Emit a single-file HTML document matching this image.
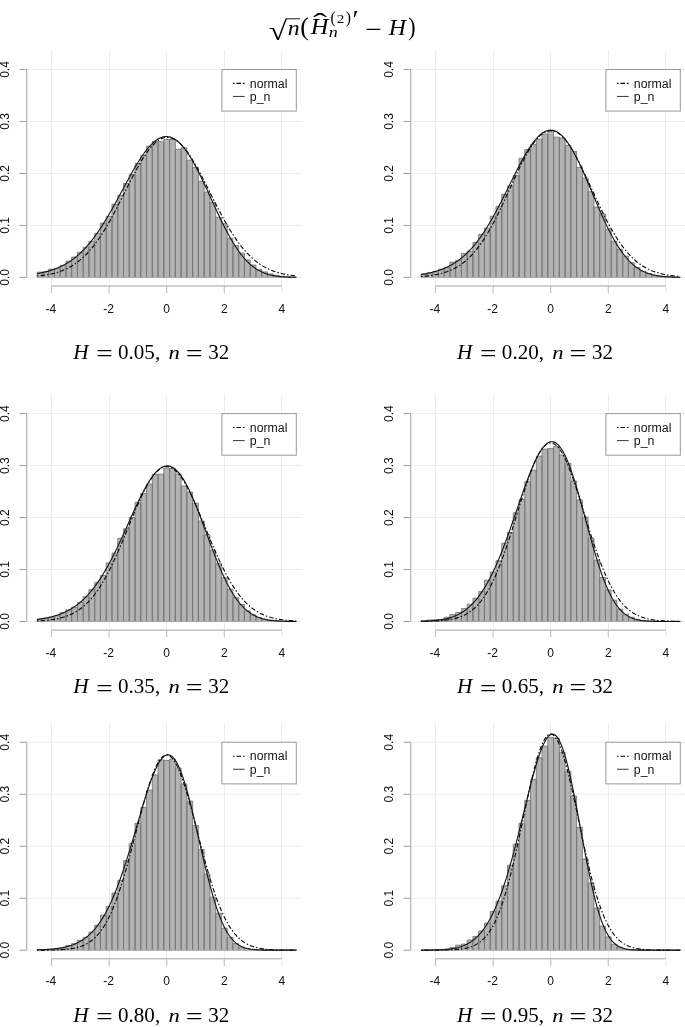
<!DOCTYPE html>
<html><head><meta charset="utf-8"><style>
html,body{margin:0;padding:0;background:#fff;width:685px;height:1027px;overflow:hidden}
svg{display:block}
.gr{stroke:#dadada;stroke-width:1;stroke-dasharray:1 1;fill:none}
.bar{fill:#b3b3b3;stroke:#747474;stroke-width:0.85}
.bb{stroke:#a6a6a6;stroke-width:1}
.nrm{fill:none;stroke:#000;stroke-width:1.1;stroke-dasharray:1.5 2 4.5 2}
.sol{fill:none;stroke:#111;stroke-width:1.1}
.ax{fill:none;stroke:#a0a0a0;stroke-width:1}
.axt{fill:none;stroke:#c2c2c2;stroke-width:1.2}
.lg{fill:#fff;stroke:#999;stroke-width:1}
.tl{font-family:"Liberation Sans",sans-serif;font-size:12px;fill:#111;text-anchor:middle}
.lt{font-family:"Liberation Sans",sans-serif;font-size:12.3px;fill:#111}
.sub{font-family:"Liberation Serif",serif;font-size:20.5px;fill:#000}
.it{font-style:italic}
.ttl{font-family:"Liberation Serif",serif;font-size:21px;fill:#000;font-style:italic}
</style></head><body>
<svg width="685" height="1027" viewBox="0 0 685 1027">
<text transform="translate(268.87 39.76) scale(1.230 1)" style="font-family:'Liberation Serif',serif;font-style:normal;font-size:27.04px" fill="#000">√</text>
<text transform="translate(287.72 34.50) scale(1.151 1)" style="font-family:'Liberation Serif',serif;font-style:italic;font-size:20.64px" fill="#000">n</text>
<text transform="translate(300.34 35.17) scale(1.007 1)" style="font-family:'Liberation Serif',serif;font-style:normal;font-size:25.71px" fill="#000">(</text>
<text transform="translate(310.75 34.30) scale(1.085 1)" style="font-family:'Liberation Serif',serif;font-style:italic;font-size:22.60px" fill="#000">H</text>
<text transform="translate(312.88 31.37) scale(1.612 1)" style="font-family:'Liberation Serif',serif;font-style:normal;font-size:26.00px" fill="#000">ˆ</text>
<text transform="translate(328.87 37.30) scale(1.199 1)" style="font-family:'Liberation Serif',serif;font-style:italic;font-size:15.11px" fill="#000">n</text>
<text transform="translate(330.61 23.19) scale(0.910 1)" style="font-family:'Liberation Serif',serif;font-style:normal;font-size:16.81px" fill="#000">(</text>
<text transform="translate(336.71 22.50) scale(1.198 1)" style="font-family:'Liberation Serif',serif;font-style:normal;font-size:12.73px" fill="#000">2</text>
<text transform="translate(345.73 23.23) scale(0.928 1)" style="font-family:'Liberation Serif',serif;font-style:normal;font-size:17.00px" fill="#000">)</text>
<text transform="translate(352.58 28.12) scale(1.110 1)" style="font-family:'Liberation Serif',serif;font-style:normal;font-size:25.53px" fill="#000">′</text>
<text transform="translate(365.32 38.03) scale(1.141 1)" style="font-family:'Liberation Serif',serif;font-style:normal;font-size:26.00px" fill="#000">−</text>
<text transform="translate(388.74 34.80) scale(1.029 1)" style="font-family:'Liberation Serif',serif;font-style:italic;font-size:23.21px" fill="#000">H</text>
<text transform="translate(408.34 35.40) scale(0.869 1)" style="font-family:'Liberation Serif',serif;font-style:normal;font-size:25.22px" fill="#000">)</text>
<line x1="286.2" y1="18.8" x2="300.2" y2="18.8" stroke="#000" stroke-width="0.9"/>
<line x1="51.5" y1="50.35" x2="51.5" y2="285.4" class="gr"/>
<line x1="109.5" y1="50.35" x2="109.5" y2="285.4" class="gr"/>
<line x1="166.5" y1="50.35" x2="166.5" y2="285.4" class="gr"/>
<line x1="224.5" y1="50.35" x2="224.5" y2="285.4" class="gr"/>
<line x1="281.5" y1="50.35" x2="281.5" y2="285.4" class="gr"/>
<line x1="27.73" y1="277.4" x2="302.06" y2="277.4" class="gr"/>
<line x1="27.73" y1="225.42" x2="302.06" y2="225.42" class="gr"/>
<line x1="27.73" y1="173.44" x2="302.06" y2="173.44" class="gr"/>
<line x1="27.73" y1="121.46" x2="302.06" y2="121.46" class="gr"/>
<line x1="27.73" y1="69.48" x2="302.06" y2="69.48" class="gr"/>
<path d="M37.1 277.4V272.2H42.86V277.4M42.86 277.4V271.68H48.62V277.4M48.62 277.4V269.19H54.38V277.4M54.38 277.4V268.41H60.14V277.4M60.14 277.4V265.44H65.9V277.4M65.9 277.4V261.29H71.66V277.4M71.66 277.4V257.13H77.42V277.4M77.42 277.4V252.29H83.18V277.4M83.18 277.4V247.25H88.94V277.4M88.94 277.4V241.33H94.7V277.4M94.7 277.4V233.37H100.46V277.4M100.46 277.4V223.08H106.22V277.4M106.22 277.4V216.38H111.98V277.4M111.98 277.4V204.32H117.74V277.4M117.74 277.4V195.38H123.5V277.4M123.5 277.4V183.47H129.26V277.4M129.26 277.4V174.48H135.02V277.4M135.02 277.4V163.51H140.78V277.4M140.78 277.4V155.61H146.54V277.4M146.54 277.4V146.2H152.3V277.4M152.3 277.4V141.32H158.06V277.4M158.06 277.4V141.68H163.82V277.4M163.82 277.4V139.5H169.58V277.4M169.58 277.4V139.5H175.34V277.4M175.34 277.4V149.22H181.1V277.4M181.1 277.4V147.81H186.86V277.4M186.86 277.4V160.19H192.62V277.4M192.62 277.4V167.31H198.38V277.4M198.38 277.4V181.29H204.14V277.4M204.14 277.4V192.1H209.9V277.4M209.9 277.4V202.39H215.66V277.4M215.66 277.4V217.31H221.42V277.4M221.42 277.4V223.86H227.18V277.4M227.18 277.4V238.31H232.94V277.4M232.94 277.4V245.69H238.7V277.4M238.7 277.4V253.13H244.46V277.4M244.46 277.4V259.99H250.22V277.4M250.22 277.4V265.08H255.98V277.4M255.98 277.4V269.4H261.74V277.4M261.74 277.4V271.89H267.5V277.4M267.5 277.4V274.02H273.26V277.4M273.26 277.4V275.37H279.02V277.4M279.02 277.4V276.31H284.78V277.4M284.78 277.4V276.72H290.54V277.4M290.54 277.4V277.09H296.3V277.4" class="bar"/>
<line x1="37.1" y1="277.4" x2="296.3" y2="277.4" class="bb"/>
<polyline points="37.1,276.07 37.96,275.99 38.83,275.9 39.69,275.8 40.56,275.7 41.42,275.6 42.28,275.49 43.15,275.37 44.01,275.25 44.88,275.12 45.74,274.98 46.6,274.84 47.47,274.69 48.33,274.53 49.2,274.37 50.06,274.19 50.92,274.01 51.79,273.82 52.65,273.62 53.52,273.41 54.38,273.18 55.24,272.95 56.11,272.71 56.97,272.46 57.84,272.19 58.7,271.92 59.56,271.63 60.43,271.33 61.29,271.01 62.16,270.68 63.02,270.34 63.88,269.98 64.75,269.61 65.61,269.22 66.48,268.82 67.34,268.4 68.2,267.97 69.07,267.51 69.93,267.04 70.8,266.56 71.66,266.05 72.52,265.53 73.39,264.98 74.25,264.42 75.12,263.84 75.98,263.23 76.84,262.61 77.71,261.96 78.57,261.29 79.44,260.6 80.3,259.89 81.16,259.16 82.03,258.4 82.89,257.62 83.76,256.81 84.62,255.98 85.48,255.13 86.35,254.25 87.21,253.35 88.08,252.43 88.94,251.47 89.8,250.5 90.67,249.49 91.53,248.47 92.4,247.41 93.26,246.33 94.12,245.23 94.99,244.1 95.85,242.94 96.72,241.76 97.58,240.55 98.44,239.32 99.31,238.06 100.17,236.78 101.04,235.48 101.9,234.14 102.76,232.79 103.63,231.41 104.49,230.01 105.36,228.58 106.22,227.14 107.08,225.67 107.95,224.18 108.81,222.67 109.68,221.14 110.54,219.59 111.4,218.03 112.27,216.44 113.13,214.84 114,213.23 114.86,211.6 115.72,209.95 116.59,208.29 117.45,206.62 118.32,204.94 119.18,203.25 120.04,201.56 120.91,199.85 121.77,198.14 122.64,196.43 123.5,194.71 124.36,192.99 125.23,191.27 126.09,189.55 126.96,187.83 127.82,186.12 128.68,184.41 129.55,182.71 130.41,181.02 131.28,179.34 132.14,177.67 133,176.01 133.87,174.37 134.73,172.74 135.6,171.13 136.46,169.54 137.32,167.98 138.19,166.43 139.05,164.91 139.92,163.42 140.78,161.95 141.64,160.51 142.51,159.1 143.37,157.73 144.24,156.39 145.1,155.08 145.96,153.81 146.83,152.58 147.69,151.39 148.56,150.24 149.42,149.13 150.28,148.06 151.15,147.04 152.01,146.06 152.88,145.14 153.74,144.26 154.6,143.42 155.47,142.64 156.33,141.91 157.2,141.24 158.06,140.61 158.92,140.04 159.79,139.52 160.65,139.06 161.52,138.65 162.38,138.3 163.24,138 164.11,137.77 164.97,137.58 165.84,137.46 166.7,137.39 167.56,137.38 168.43,137.43 169.29,137.54 170.16,137.7 171.02,137.92 171.88,138.19 172.75,138.53 173.61,138.92 174.48,139.36 175.34,139.86 176.2,140.41 177.07,141.02 177.93,141.68 178.8,142.39 179.66,143.16 180.52,143.97 181.39,144.84 182.25,145.75 183.12,146.71 183.98,147.72 184.84,148.77 185.71,149.86 186.57,151 187.44,152.18 188.3,153.4 189.16,154.65 190.03,155.95 190.89,157.28 191.76,158.64 192.62,160.04 193.48,161.47 194.35,162.92 195.21,164.41 196.08,165.92 196.94,167.46 197.8,169.02 198.67,170.6 199.53,172.2 200.4,173.82 201.26,175.46 202.12,177.11 202.99,178.78 203.85,180.46 204.72,182.15 205.58,183.85 206.44,185.55 207.31,187.26 208.17,188.98 209.04,190.7 209.9,192.42 210.76,194.14 211.63,195.85 212.49,197.57 213.36,199.28 214.22,200.99 215.08,202.69 215.95,204.38 216.81,206.06 217.68,207.74 218.54,209.4 219.4,211.05 220.27,212.68 221.13,214.31 222,215.91 222.86,217.5 223.72,219.07 224.59,220.63 225.45,222.16 226.32,223.68 227.18,225.18 228.04,226.65 228.91,228.11 229.77,229.54 230.64,230.95 231.5,232.33 232.36,233.7 233.23,235.03 234.09,236.35 234.96,237.64 235.82,238.91 236.68,240.15 237.55,241.36 238.41,242.55 239.28,243.72 240.14,244.85 241,245.97 241.87,247.06 242.73,248.12 243.6,249.15 244.46,250.17 245.32,251.15 246.19,252.11 247.05,253.05 247.92,253.96 248.78,254.84 249.64,255.7 250.51,256.54 251.37,257.35 252.24,258.14 253.1,258.91 253.96,259.65 254.83,260.37 255.69,261.07 256.56,261.74 257.42,262.39 258.28,263.03 259.15,263.64 260.01,264.23 260.88,264.8 261.74,265.35 262.6,265.88 263.47,266.39 264.33,266.88 265.2,267.36 266.06,267.82 266.92,268.26 267.79,268.68 268.65,269.09 269.52,269.48 270.38,269.86 271.24,270.22 272.11,270.57 272.97,270.9 273.84,271.22 274.7,271.53 275.56,271.82 276.43,272.1 277.29,272.37 278.16,272.63 279.02,272.87 279.88,273.11 280.75,273.33 281.61,273.55 282.48,273.75 283.34,273.95 284.2,274.13 285.07,274.31 285.93,274.48 286.8,274.64 287.66,274.79 288.52,274.94 289.39,275.08 290.25,275.21 291.12,275.33 291.98,275.45 292.84,275.56 293.71,275.67 294.57,275.77 295.44,275.87 296.3,275.96" class="nrm"/>
<polyline points="37.1,273.64 37.96,273.49 38.83,273.34 39.69,273.18 40.56,273.01 41.42,272.83 42.28,272.65 43.15,272.46 44.01,272.26 44.88,272.06 45.74,271.85 46.6,271.62 47.47,271.39 48.33,271.15 49.2,270.91 50.06,270.65 50.92,270.38 51.79,270.1 52.65,269.81 53.52,269.51 54.38,269.2 55.24,268.88 56.11,268.55 56.97,268.2 57.84,267.84 58.7,267.47 59.56,267.09 60.43,266.69 61.29,266.28 62.16,265.86 63.02,265.42 63.88,264.96 64.75,264.49 65.61,264.01 66.48,263.51 67.34,262.99 68.2,262.46 69.07,261.91 69.93,261.34 70.8,260.75 71.66,260.15 72.52,259.53 73.39,258.89 74.25,258.23 75.12,257.55 75.98,256.86 76.84,256.14 77.71,255.4 78.57,254.65 79.44,253.87 80.3,253.07 81.16,252.25 82.03,251.41 82.89,250.55 83.76,249.67 84.62,248.77 85.48,247.84 86.35,246.89 87.21,245.92 88.08,244.93 88.94,243.92 89.8,242.88 90.67,241.82 91.53,240.74 92.4,239.64 93.26,238.52 94.12,237.37 94.99,236.2 95.85,235.02 96.72,233.8 97.58,232.57 98.44,231.32 99.31,230.05 100.17,228.75 101.04,227.44 101.9,226.1 102.76,224.75 103.63,223.38 104.49,221.99 105.36,220.58 106.22,219.16 107.08,217.71 107.95,216.25 108.81,214.78 109.68,213.29 110.54,211.79 111.4,210.27 112.27,208.74 113.13,207.2 114,205.65 114.86,204.09 115.72,202.52 116.59,200.94 117.45,199.35 118.32,197.76 119.18,196.16 120.04,194.56 120.91,192.95 121.77,191.35 122.64,189.74 123.5,188.13 124.36,186.53 125.23,184.92 126.09,183.32 126.96,181.73 127.82,180.14 128.68,178.56 129.55,176.99 130.41,175.43 131.28,173.88 132.14,172.35 133,170.83 133.87,169.32 134.73,167.83 135.6,166.37 136.46,164.92 137.32,163.49 138.19,162.08 139.05,160.7 139.92,159.35 140.78,158.02 141.64,156.72 142.51,155.45 143.37,154.21 144.24,153 145.1,151.83 145.96,150.69 146.83,149.58 147.69,148.52 148.56,147.49 149.42,146.5 150.28,145.55 151.15,144.65 152.01,143.79 152.88,142.97 153.74,142.19 154.6,141.47 155.47,140.78 156.33,140.15 157.2,139.57 158.06,139.03 158.92,138.55 159.79,138.12 160.65,137.73 161.52,137.4 162.38,137.13 163.24,136.9 164.11,136.73 164.97,136.62 165.84,136.56 166.7,136.55 167.56,136.6 168.43,136.71 169.29,136.87 170.16,137.08 171.02,137.35 171.88,137.68 172.75,138.06 173.61,138.5 174.48,138.99 175.34,139.54 176.2,140.14 177.07,140.79 177.93,141.5 178.8,142.26 179.66,143.08 180.52,143.94 181.39,144.86 182.25,145.82 183.12,146.84 183.98,147.9 184.84,149.01 185.71,150.17 186.57,151.37 187.44,152.62 188.3,153.91 189.16,155.24 190.03,156.62 190.89,158.03 191.76,159.48 192.62,160.97 193.48,162.49 194.35,164.05 195.21,165.64 196.08,167.26 196.94,168.9 197.8,170.58 198.67,172.29 199.53,174.01 200.4,175.76 201.26,177.54 202.12,179.33 202.99,181.14 203.85,182.96 204.72,184.8 205.58,186.65 206.44,188.52 207.31,190.39 208.17,192.27 209.04,194.15 209.9,196.04 210.76,197.93 211.63,199.83 212.49,201.72 213.36,203.61 214.22,205.49 215.08,207.37 215.95,209.24 216.81,211.1 217.68,212.94 218.54,214.78 219.4,216.6 220.27,218.41 221.13,220.2 222,221.98 222.86,223.73 223.72,225.46 224.59,227.17 225.45,228.86 226.32,230.52 227.18,232.16 228.04,233.77 228.91,235.36 229.77,236.92 230.64,238.44 231.5,239.94 232.36,241.41 233.23,242.85 234.09,244.25 234.96,245.63 235.82,246.97 236.68,248.27 237.55,249.55 238.41,250.79 239.28,251.99 240.14,253.16 241,254.3 241.87,255.4 242.73,256.47 243.6,257.51 244.46,258.51 245.32,259.48 246.19,260.41 247.05,261.31 247.92,262.17 248.78,263.01 249.64,263.81 250.51,264.58 251.37,265.32 252.24,266.02 253.1,266.7 253.96,267.35 254.83,267.96 255.69,268.55 256.56,269.11 257.42,269.65 258.28,270.16 259.15,270.64 260.01,271.1 260.88,271.53 261.74,271.94 262.6,272.33 263.47,272.69 264.33,273.04 265.2,273.36 266.06,273.66 266.92,273.95 267.79,274.22 268.65,274.47 269.52,274.7 270.38,274.92 271.24,275.13 272.11,275.32 272.97,275.5 273.84,275.66 274.7,275.81 275.56,275.96 276.43,276.09 277.29,276.21 278.16,276.32 279.02,276.42 279.88,276.51 280.75,276.6 281.61,276.68 282.48,276.75 283.34,276.82 284.2,276.88 285.07,276.93 285.93,276.98 286.8,277.03 287.66,277.07 288.52,277.1 289.39,277.14 290.25,277.17 291.12,277.19 291.98,277.22 292.84,277.24 293.71,277.26 294.57,277.28 295.44,277.29 296.3,277.31" class="sol"/>
<path d="M51.5 286H281.9" class="ax"/>
<path d="M51.5 286V293.2M109.1 286V293.2M166.7 286V293.2M224.3 286V293.2" class="axt"/>
<path d="M281.9 286V293.2" class="axt" style="stroke:#ececec"/>
<path d="M26.73 277.4V69.48M26.73 277.4H19.33M26.73 225.42H19.33M26.73 173.44H19.33M26.73 121.46H19.33M26.73 69.48H19.33" class="ax"/>
<text x="50.9" y="312.6" class="tl">-4</text>
<text x="108.5" y="312.6" class="tl">-2</text>
<text x="166.7" y="312.6" class="tl">0</text>
<text x="224.3" y="312.6" class="tl">2</text>
<text x="281.9" y="312.6" class="tl">4</text>
<text x="9.33" y="277.4" class="tl" transform="rotate(-90 9.33 277.4)">0.0</text>
<text x="9.33" y="225.42" class="tl" transform="rotate(-90 9.33 225.42)">0.1</text>
<text x="9.33" y="173.44" class="tl" transform="rotate(-90 9.33 173.44)">0.2</text>
<text x="9.33" y="121.46" class="tl" transform="rotate(-90 9.33 121.46)">0.3</text>
<text x="9.33" y="69.48" class="tl" transform="rotate(-90 9.33 69.48)">0.4</text>
<rect x="221.9" y="69.48" width="74.4" height="41.6" class="lg"/>
<line x1="233" y1="83.38" x2="244.6" y2="83.38" class="nrm"/>
<line x1="233" y1="96.48" x2="244.6" y2="96.48" class="sol" style="stroke:#444"/>
<text x="249.8" y="87.68" class="lt">normal</text>
<text x="249.8" y="101.08" class="lt">p_n</text>
<line x1="435.5" y1="50.35" x2="435.5" y2="285.4" class="gr"/>
<line x1="493.5" y1="50.35" x2="493.5" y2="285.4" class="gr"/>
<line x1="550.5" y1="50.35" x2="550.5" y2="285.4" class="gr"/>
<line x1="608.5" y1="50.35" x2="608.5" y2="285.4" class="gr"/>
<line x1="665.5" y1="50.35" x2="665.5" y2="285.4" class="gr"/>
<line x1="411.73" y1="277.4" x2="686.06" y2="277.4" class="gr"/>
<line x1="411.73" y1="225.42" x2="686.06" y2="225.42" class="gr"/>
<line x1="411.73" y1="173.44" x2="686.06" y2="173.44" class="gr"/>
<line x1="411.73" y1="121.46" x2="686.06" y2="121.46" class="gr"/>
<line x1="411.73" y1="69.48" x2="686.06" y2="69.48" class="gr"/>
<path d="M421.1 277.4V273.92H426.86V277.4M426.86 277.4V272.83H432.62V277.4M432.62 277.4V271.68H438.38V277.4M438.38 277.4V269.19H444.14V277.4M444.14 277.4V267.32H449.9V277.4M449.9 277.4V262.12H455.66V277.4M455.66 277.4V260.25H461.42V277.4M461.42 277.4V253.39H467.18V277.4M467.18 277.4V251.2H472.94V277.4M472.94 277.4V242.42H478.7V277.4M478.7 277.4V234.2H484.46V277.4M484.46 277.4V228.17H490.22V277.4M490.22 277.4V216.17H495.98V277.4M495.98 277.4V206.4H501.74V277.4M501.74 277.4V194.28H507.5V277.4M507.5 277.4V185.92H513.26V277.4M513.26 277.4V175.62H519.02V277.4M519.02 277.4V158.31H524.78V277.4M524.78 277.4V149.43H530.54V277.4M530.54 277.4V144.59H536.3V277.4M536.3 277.4V139.19H542.06V277.4M542.06 277.4V134.14H547.82V277.4M547.82 277.4V130.82H553.58V277.4M553.58 277.4V137.11H559.34V277.4M559.34 277.4V138.09H565.1V277.4M565.1 277.4V145.37H570.86V277.4M570.86 277.4V151.3H576.62V277.4M576.62 277.4V167.31H582.38V277.4M582.38 277.4V178.12H588.14V277.4M588.14 277.4V191.79H593.9V277.4M593.9 277.4V207.02H599.66V277.4M599.66 277.4V213.98H605.42V277.4M605.42 277.4V229.21H611.18V277.4M611.18 277.4V241.22H616.94V277.4M616.94 277.4V249.23H622.7V277.4M622.7 277.4V256.19H628.46V277.4M628.46 277.4V262.79H634.22V277.4M634.22 277.4V267.58H639.98V277.4M639.98 277.4V271.42H645.74V277.4M645.74 277.4V273.61H651.5V277.4M651.5 277.4V275.37H657.26V277.4M657.26 277.4V276.31H663.02V277.4M663.02 277.4V276.72H668.78V277.4M668.78 277.4V277.09H674.54V277.4M674.54 277.4V277.19H680.3V277.4" class="bar"/>
<line x1="421.1" y1="277.4" x2="680.3" y2="277.4" class="bb"/>
<polyline points="421.1,276.47 421.96,276.41 422.83,276.34 423.69,276.27 424.56,276.19 425.42,276.11 426.28,276.02 427.15,275.93 428.01,275.83 428.88,275.73 429.74,275.62 430.6,275.51 431.47,275.39 432.33,275.26 433.2,275.12 434.06,274.98 434.92,274.83 435.79,274.67 436.65,274.5 437.52,274.32 438.38,274.14 439.24,273.94 440.11,273.73 440.97,273.52 441.84,273.29 442.7,273.05 443.56,272.8 444.43,272.54 445.29,272.26 446.16,271.97 447.02,271.67 447.88,271.35 448.75,271.02 449.61,270.67 450.48,270.31 451.34,269.93 452.2,269.54 453.07,269.13 453.93,268.7 454.8,268.25 455.66,267.78 456.52,267.29 457.39,266.79 458.25,266.26 459.12,265.71 459.98,265.15 460.84,264.56 461.71,263.94 462.57,263.31 463.44,262.65 464.3,261.96 465.16,261.26 466.03,260.53 466.89,259.77 467.76,258.98 468.62,258.18 469.48,257.34 470.35,256.48 471.21,255.59 472.08,254.67 472.94,253.72 473.8,252.75 474.67,251.75 475.53,250.72 476.4,249.66 477.26,248.57 478.12,247.45 478.99,246.3 479.85,245.12 480.72,243.92 481.58,242.68 482.44,241.42 483.31,240.12 484.17,238.8 485.04,237.45 485.9,236.06 486.76,234.65 487.63,233.21 488.49,231.75 489.36,230.25 490.22,228.73 491.08,227.19 491.95,225.61 492.81,224.01 493.68,222.39 494.54,220.75 495.4,219.08 496.27,217.38 497.13,215.67 498,213.94 498.86,212.18 499.72,210.41 500.59,208.62 501.45,206.82 502.32,205 503.18,203.17 504.04,201.33 504.91,199.47 505.77,197.61 506.64,195.73 507.5,193.85 508.36,191.97 509.23,190.09 510.09,188.2 510.96,186.31 511.82,184.42 512.68,182.54 513.55,180.67 514.41,178.8 515.28,176.94 516.14,175.09 517,173.25 517.87,171.43 518.73,169.62 519.6,167.84 520.46,166.07 521.32,164.33 522.19,162.61 523.05,160.92 523.92,159.25 524.78,157.62 525.64,156.02 526.51,154.45 527.37,152.92 528.24,151.42 529.1,149.97 529.96,148.56 530.83,147.19 531.69,145.86 532.56,144.58 533.42,143.35 534.28,142.17 535.15,141.03 536.01,139.96 536.88,138.93 537.74,137.96 538.6,137.05 539.47,136.19 540.33,135.39 541.2,134.66 542.06,133.98 542.92,133.36 543.79,132.81 544.65,132.32 545.52,131.9 546.38,131.54 547.24,131.24 548.11,131.01 548.97,130.85 549.84,130.75 550.7,130.71 551.56,130.75 552.43,130.85 553.29,131.01 554.16,131.24 555.02,131.54 555.88,131.9 556.75,132.32 557.61,132.81 558.48,133.36 559.34,133.98 560.2,134.66 561.07,135.39 561.93,136.19 562.8,137.05 563.66,137.96 564.52,138.93 565.39,139.96 566.25,141.03 567.12,142.17 567.98,143.35 568.84,144.58 569.71,145.86 570.57,147.19 571.44,148.56 572.3,149.97 573.16,151.42 574.03,152.92 574.89,154.45 575.76,156.02 576.62,157.62 577.48,159.25 578.35,160.92 579.21,162.61 580.08,164.33 580.94,166.07 581.8,167.84 582.67,169.62 583.53,171.43 584.4,173.25 585.26,175.09 586.12,176.94 586.99,178.8 587.85,180.67 588.72,182.54 589.58,184.42 590.44,186.31 591.31,188.2 592.17,190.09 593.04,191.97 593.9,193.85 594.76,195.73 595.63,197.61 596.49,199.47 597.36,201.33 598.22,203.17 599.08,205 599.95,206.82 600.81,208.62 601.68,210.41 602.54,212.18 603.4,213.94 604.27,215.67 605.13,217.38 606,219.08 606.86,220.75 607.72,222.39 608.59,224.01 609.45,225.61 610.32,227.19 611.18,228.73 612.04,230.25 612.91,231.75 613.77,233.21 614.64,234.65 615.5,236.06 616.36,237.45 617.23,238.8 618.09,240.12 618.96,241.42 619.82,242.68 620.68,243.92 621.55,245.12 622.41,246.3 623.28,247.45 624.14,248.57 625,249.66 625.87,250.72 626.73,251.75 627.6,252.75 628.46,253.72 629.32,254.67 630.19,255.59 631.05,256.48 631.92,257.34 632.78,258.18 633.64,258.98 634.51,259.77 635.37,260.53 636.24,261.26 637.1,261.96 637.96,262.65 638.83,263.31 639.69,263.94 640.56,264.56 641.42,265.15 642.28,265.71 643.15,266.26 644.01,266.79 644.88,267.29 645.74,267.78 646.6,268.25 647.47,268.7 648.33,269.13 649.2,269.54 650.06,269.93 650.92,270.31 651.79,270.67 652.65,271.02 653.52,271.35 654.38,271.67 655.24,271.97 656.11,272.26 656.97,272.54 657.84,272.8 658.7,273.05 659.56,273.29 660.43,273.52 661.29,273.73 662.16,273.94 663.02,274.14 663.88,274.32 664.75,274.5 665.61,274.67 666.48,274.83 667.34,274.98 668.2,275.12 669.07,275.26 669.93,275.39 670.8,275.51 671.66,275.62 672.52,275.73 673.39,275.83 674.25,275.93 675.12,276.02 675.98,276.11 676.84,276.19 677.71,276.27 678.57,276.34 679.44,276.41 680.3,276.47" class="nrm"/>
<polyline points="421.1,274.46 421.96,274.33 422.83,274.19 423.69,274.05 424.56,273.91 425.42,273.75 426.28,273.6 427.15,273.43 428.01,273.26 428.88,273.08 429.74,272.89 430.6,272.7 431.47,272.49 432.33,272.28 433.2,272.06 434.06,271.83 434.92,271.6 435.79,271.35 436.65,271.09 437.52,270.83 438.38,270.55 439.24,270.26 440.11,269.96 440.97,269.65 441.84,269.33 442.7,269 443.56,268.65 444.43,268.29 445.29,267.92 446.16,267.53 447.02,267.13 447.88,266.72 448.75,266.29 449.61,265.84 450.48,265.38 451.34,264.91 452.2,264.42 453.07,263.91 453.93,263.38 454.8,262.84 455.66,262.28 456.52,261.7 457.39,261.11 458.25,260.49 459.12,259.85 459.98,259.2 460.84,258.53 461.71,257.83 462.57,257.11 463.44,256.38 464.3,255.62 465.16,254.84 466.03,254.04 466.89,253.21 467.76,252.37 468.62,251.5 469.48,250.61 470.35,249.69 471.21,248.75 472.08,247.79 472.94,246.8 473.8,245.79 474.67,244.75 475.53,243.69 476.4,242.61 477.26,241.5 478.12,240.37 478.99,239.21 479.85,238.03 480.72,236.82 481.58,235.59 482.44,234.33 483.31,233.05 484.17,231.75 485.04,230.42 485.9,229.07 486.76,227.7 487.63,226.3 488.49,224.88 489.36,223.44 490.22,221.97 491.08,220.49 491.95,218.98 492.81,217.45 493.68,215.91 494.54,214.34 495.4,212.76 496.27,211.15 497.13,209.54 498,207.9 498.86,206.25 499.72,204.59 500.59,202.91 501.45,201.22 502.32,199.52 503.18,197.81 504.04,196.09 504.91,194.36 505.77,192.62 506.64,190.88 507.5,189.13 508.36,187.38 509.23,185.63 510.09,183.88 510.96,182.13 511.82,180.38 512.68,178.64 513.55,176.9 514.41,175.17 515.28,173.45 516.14,171.74 517,170.04 517.87,168.35 518.73,166.68 519.6,165.02 520.46,163.38 521.32,161.77 522.19,160.17 523.05,158.6 523.92,157.05 524.78,155.53 525.64,154.04 526.51,152.58 527.37,151.15 528.24,149.76 529.1,148.4 529.96,147.08 530.83,145.79 531.69,144.55 532.56,143.35 533.42,142.19 534.28,141.07 535.15,140.01 536.01,138.99 536.88,138.02 537.74,137.1 538.6,136.23 539.47,135.42 540.33,134.66 541.2,133.96 542.06,133.31 542.92,132.72 543.79,132.19 544.65,131.72 545.52,131.31 546.38,130.96 547.24,130.68 548.11,130.46 548.97,130.3 549.84,130.2 550.7,130.17 551.56,130.2 552.43,130.3 553.29,130.47 554.16,130.69 555.02,130.99 555.88,131.35 556.75,131.77 557.61,132.26 558.48,132.81 559.34,133.43 560.2,134.11 561.07,134.85 561.93,135.66 562.8,136.53 563.66,137.45 564.52,138.44 565.39,139.49 566.25,140.59 567.12,141.75 567.98,142.97 568.84,144.24 569.71,145.56 570.57,146.93 571.44,148.36 572.3,149.83 573.16,151.35 574.03,152.91 574.89,154.51 575.76,156.16 576.62,157.85 577.48,159.57 578.35,161.33 579.21,163.12 580.08,164.95 580.94,166.8 581.8,168.68 582.67,170.59 583.53,172.52 584.4,174.47 585.26,176.44 586.12,178.43 586.99,180.43 587.85,182.45 588.72,184.47 589.58,186.51 590.44,188.55 591.31,190.59 592.17,192.64 593.04,194.69 593.9,196.73 594.76,198.77 595.63,200.81 596.49,202.84 597.36,204.85 598.22,206.86 599.08,208.85 599.95,210.83 600.81,212.79 601.68,214.74 602.54,216.66 603.4,218.56 604.27,220.44 605.13,222.3 606,224.13 606.86,225.93 607.72,227.71 608.59,229.46 609.45,231.17 610.32,232.86 611.18,234.51 612.04,236.14 612.91,237.72 613.77,239.28 614.64,240.8 615.5,242.28 616.36,243.73 617.23,245.14 618.09,246.52 618.96,247.86 619.82,249.16 620.68,250.43 621.55,251.66 622.41,252.85 623.28,254 624.14,255.12 625,256.2 625.87,257.25 626.73,258.26 627.6,259.23 628.46,260.17 629.32,261.07 630.19,261.94 631.05,262.78 631.92,263.58 632.78,264.35 633.64,265.09 634.51,265.79 635.37,266.47 636.24,267.11 637.1,267.73 637.96,268.32 638.83,268.88 639.69,269.41 640.56,269.92 641.42,270.4 642.28,270.85 643.15,271.29 644.01,271.7 644.88,272.08 645.74,272.45 646.6,272.79 647.47,273.12 648.33,273.43 649.2,273.72 650.06,273.99 650.92,274.24 651.79,274.48 652.65,274.7 653.52,274.91 654.38,275.11 655.24,275.29 656.11,275.46 656.97,275.62 657.84,275.77 658.7,275.9 659.56,276.03 660.43,276.15 661.29,276.26 662.16,276.36 663.02,276.45 663.88,276.54 664.75,276.62 665.61,276.69 666.48,276.76 667.34,276.82 668.2,276.87 669.07,276.92 669.93,276.97 670.8,277.01 671.66,277.05 672.52,277.09 673.39,277.12 674.25,277.15 675.12,277.18 675.98,277.2 676.84,277.22 677.71,277.24 678.57,277.26 679.44,277.27 680.3,277.29" class="sol"/>
<path d="M435.5 286H665.9" class="ax"/>
<path d="M435.5 286V293.2M493.1 286V293.2M550.7 286V293.2M608.3 286V293.2" class="axt"/>
<path d="M665.9 286V293.2" class="axt" style="stroke:#ececec"/>
<path d="M410.73 277.4V69.48M410.73 277.4H403.33M410.73 225.42H403.33M410.73 173.44H403.33M410.73 121.46H403.33M410.73 69.48H403.33" class="ax"/>
<text x="434.9" y="312.6" class="tl">-4</text>
<text x="492.5" y="312.6" class="tl">-2</text>
<text x="550.7" y="312.6" class="tl">0</text>
<text x="608.3" y="312.6" class="tl">2</text>
<text x="665.9" y="312.6" class="tl">4</text>
<text x="393.33" y="277.4" class="tl" transform="rotate(-90 393.33 277.4)">0.0</text>
<text x="393.33" y="225.42" class="tl" transform="rotate(-90 393.33 225.42)">0.1</text>
<text x="393.33" y="173.44" class="tl" transform="rotate(-90 393.33 173.44)">0.2</text>
<text x="393.33" y="121.46" class="tl" transform="rotate(-90 393.33 121.46)">0.3</text>
<text x="393.33" y="69.48" class="tl" transform="rotate(-90 393.33 69.48)">0.4</text>
<rect x="605.9" y="69.48" width="74.4" height="41.6" class="lg"/>
<line x1="617" y1="83.38" x2="628.6" y2="83.38" class="nrm"/>
<line x1="617" y1="96.48" x2="628.6" y2="96.48" class="sol" style="stroke:#444"/>
<text x="633.8" y="87.68" class="lt">normal</text>
<text x="633.8" y="101.08" class="lt">p_n</text>
<line x1="51.5" y1="394.45" x2="51.5" y2="629.5" class="gr"/>
<line x1="109.5" y1="394.45" x2="109.5" y2="629.5" class="gr"/>
<line x1="166.5" y1="394.45" x2="166.5" y2="629.5" class="gr"/>
<line x1="224.5" y1="394.45" x2="224.5" y2="629.5" class="gr"/>
<line x1="281.5" y1="394.45" x2="281.5" y2="629.5" class="gr"/>
<line x1="27.73" y1="621.5" x2="302.06" y2="621.5" class="gr"/>
<line x1="27.73" y1="569.52" x2="302.06" y2="569.52" class="gr"/>
<line x1="27.73" y1="517.54" x2="302.06" y2="517.54" class="gr"/>
<line x1="27.73" y1="465.56" x2="302.06" y2="465.56" class="gr"/>
<line x1="27.73" y1="413.58" x2="302.06" y2="413.58" class="gr"/>
<path d="M37.1 621.5V619.32H42.86V621.5M42.86 621.5V618.23H48.62V621.5M48.62 621.5V617.29H54.38V621.5M54.38 621.5V615.68H60.14V621.5M60.14 621.5V612.4H65.9V621.5M65.9 621.5V609.91H71.66V621.5M71.66 621.5V607.1H77.42V621.5M77.42 621.5V602.48H83.18V621.5M83.18 621.5V596.71H88.94V621.5M88.94 621.5V589.69H94.7V621.5M94.7 621.5V582.31H100.46V621.5M100.46 621.5V575.5H106.22V621.5M106.22 621.5V562.97H111.98V621.5M111.98 621.5V553.09H117.74V621.5M117.74 621.5V538.28H123.5V621.5M123.5 621.5V528.82H129.26V621.5M129.26 621.5V517.49H135.02V621.5M135.02 621.5V502.31H140.78V621.5M140.78 621.5V493.42H146.54V621.5M146.54 621.5V484.01H152.3V621.5M152.3 621.5V474.29H158.06V621.5M158.06 621.5V474.14H163.82V621.5M163.82 621.5V468.21H169.58V621.5M169.58 621.5V468.42H175.34V621.5M175.34 621.5V473.98H181.1V621.5M181.1 621.5V485.88H186.86V621.5M186.86 621.5V492.17H192.62V621.5M192.62 621.5V503.19H198.38V621.5M198.38 621.5V520.97H204.14V621.5M204.14 621.5V534.8H209.9V621.5M209.9 621.5V550.18H215.66V621.5M215.66 621.5V563.7H221.42V621.5M221.42 621.5V577.78H227.18V621.5M227.18 621.5V589.22H232.94V621.5M232.94 621.5V597.69H238.7V621.5M238.7 621.5V604.5H244.46V621.5M244.46 621.5V610.79H250.22V621.5M250.22 621.5V614.79H255.98V621.5M255.98 621.5V617.6H261.74V621.5M261.74 621.5V619.42H267.5V621.5M267.5 621.5V620.3H273.26V621.5M273.26 621.5V620.72H279.02V621.5M279.02 621.5V621.08H284.78V621.5M284.78 621.5V621.29H290.54V621.5M290.54 621.5V621.29H296.3V621.5" class="bar"/>
<line x1="37.1" y1="621.5" x2="296.3" y2="621.5" class="bb"/>
<polyline points="37.1,620.95 37.96,620.91 38.83,620.86 39.69,620.82 40.56,620.76 41.42,620.71 42.28,620.65 43.15,620.58 44.01,620.52 44.88,620.44 45.74,620.37 46.6,620.29 47.47,620.2 48.33,620.1 49.2,620.01 50.06,619.9 50.92,619.79 51.79,619.67 52.65,619.54 53.52,619.41 54.38,619.27 55.24,619.12 56.11,618.96 56.97,618.79 57.84,618.62 58.7,618.43 59.56,618.23 60.43,618.02 61.29,617.8 62.16,617.57 63.02,617.32 63.88,617.07 64.75,616.79 65.61,616.51 66.48,616.21 67.34,615.89 68.2,615.56 69.07,615.21 69.93,614.85 70.8,614.46 71.66,614.06 72.52,613.64 73.39,613.2 74.25,612.74 75.12,612.26 75.98,611.76 76.84,611.24 77.71,610.69 78.57,610.12 79.44,609.52 80.3,608.9 81.16,608.26 82.03,607.59 82.89,606.89 83.76,606.17 84.62,605.41 85.48,604.63 86.35,603.82 87.21,602.98 88.08,602.11 88.94,601.21 89.8,600.28 90.67,599.32 91.53,598.32 92.4,597.29 93.26,596.23 94.12,595.14 94.99,594.01 95.85,592.85 96.72,591.65 97.58,590.42 98.44,589.15 99.31,587.85 100.17,586.52 101.04,585.15 101.9,583.75 102.76,582.31 103.63,580.84 104.49,579.33 105.36,577.79 106.22,576.22 107.08,574.61 107.95,572.97 108.81,571.3 109.68,569.59 110.54,567.86 111.4,566.09 112.27,564.3 113.13,562.48 114,560.63 114.86,558.75 115.72,556.85 116.59,554.92 117.45,552.97 118.32,551 119.18,549.01 120.04,547 120.91,544.97 121.77,542.93 122.64,540.87 123.5,538.81 124.36,536.73 125.23,534.64 126.09,532.54 126.96,530.44 127.82,528.34 128.68,526.23 129.55,524.13 130.41,522.03 131.28,519.94 132.14,517.85 133,515.78 133.87,513.72 134.73,511.67 135.6,509.64 136.46,507.63 137.32,505.64 138.19,503.68 139.05,501.74 139.92,499.83 140.78,497.95 141.64,496.11 142.51,494.31 143.37,492.54 144.24,490.81 145.1,489.13 145.96,487.49 146.83,485.9 147.69,484.36 148.56,482.87 149.42,481.44 150.28,480.06 151.15,478.74 152.01,477.48 152.88,476.29 153.74,475.15 154.6,474.08 155.47,473.08 156.33,472.15 157.2,471.28 158.06,470.49 158.92,469.77 159.79,469.12 160.65,468.55 161.52,468.05 162.38,467.62 163.24,467.27 164.11,467 164.97,466.81 165.84,466.69 166.7,466.65 167.56,466.69 168.43,466.81 169.29,467 170.16,467.27 171.02,467.62 171.88,468.05 172.75,468.55 173.61,469.12 174.48,469.77 175.34,470.49 176.2,471.28 177.07,472.15 177.93,473.08 178.8,474.08 179.66,475.15 180.52,476.29 181.39,477.48 182.25,478.74 183.12,480.06 183.98,481.44 184.84,482.87 185.71,484.36 186.57,485.9 187.44,487.49 188.3,489.13 189.16,490.81 190.03,492.54 190.89,494.31 191.76,496.11 192.62,497.95 193.48,499.83 194.35,501.74 195.21,503.68 196.08,505.64 196.94,507.63 197.8,509.64 198.67,511.67 199.53,513.72 200.4,515.78 201.26,517.85 202.12,519.94 202.99,522.03 203.85,524.13 204.72,526.23 205.58,528.34 206.44,530.44 207.31,532.54 208.17,534.64 209.04,536.73 209.9,538.81 210.76,540.87 211.63,542.93 212.49,544.97 213.36,547 214.22,549.01 215.08,551 215.95,552.97 216.81,554.92 217.68,556.85 218.54,558.75 219.4,560.63 220.27,562.48 221.13,564.3 222,566.09 222.86,567.86 223.72,569.59 224.59,571.3 225.45,572.97 226.32,574.61 227.18,576.22 228.04,577.79 228.91,579.33 229.77,580.84 230.64,582.31 231.5,583.75 232.36,585.15 233.23,586.52 234.09,587.85 234.96,589.15 235.82,590.42 236.68,591.65 237.55,592.85 238.41,594.01 239.28,595.14 240.14,596.23 241,597.29 241.87,598.32 242.73,599.32 243.6,600.28 244.46,601.21 245.32,602.11 246.19,602.98 247.05,603.82 247.92,604.63 248.78,605.41 249.64,606.17 250.51,606.89 251.37,607.59 252.24,608.26 253.1,608.9 253.96,609.52 254.83,610.12 255.69,610.69 256.56,611.24 257.42,611.76 258.28,612.26 259.15,612.74 260.01,613.2 260.88,613.64 261.74,614.06 262.6,614.46 263.47,614.85 264.33,615.21 265.2,615.56 266.06,615.89 266.92,616.21 267.79,616.51 268.65,616.79 269.52,617.07 270.38,617.32 271.24,617.57 272.11,617.8 272.97,618.02 273.84,618.23 274.7,618.43 275.56,618.62 276.43,618.79 277.29,618.96 278.16,619.12 279.02,619.27 279.88,619.41 280.75,619.54 281.61,619.67 282.48,619.79 283.34,619.9 284.2,620.01 285.07,620.1 285.93,620.2 286.8,620.29 287.66,620.37 288.52,620.44 289.39,620.52 290.25,620.58 291.12,620.65 291.98,620.71 292.84,620.76 293.71,620.82 294.57,620.86 295.44,620.91 296.3,620.95" class="nrm"/>
<polyline points="37.1,619.36 37.96,619.25 38.83,619.14 39.69,619.02 40.56,618.9 41.42,618.77 42.28,618.63 43.15,618.49 44.01,618.35 44.88,618.19 45.74,618.03 46.6,617.87 47.47,617.69 48.33,617.51 49.2,617.32 50.06,617.12 50.92,616.92 51.79,616.7 52.65,616.47 53.52,616.24 54.38,616 55.24,615.74 56.11,615.48 56.97,615.2 57.84,614.92 58.7,614.62 59.56,614.31 60.43,613.99 61.29,613.65 62.16,613.3 63.02,612.94 63.88,612.57 64.75,612.18 65.61,611.77 66.48,611.35 67.34,610.92 68.2,610.47 69.07,610 69.93,609.52 70.8,609.01 71.66,608.5 72.52,607.96 73.39,607.4 74.25,606.83 75.12,606.23 75.98,605.62 76.84,604.98 77.71,604.33 78.57,603.65 79.44,602.96 80.3,602.24 81.16,601.49 82.03,600.73 82.89,599.94 83.76,599.13 84.62,598.29 85.48,597.43 86.35,596.55 87.21,595.64 88.08,594.7 88.94,593.74 89.8,592.75 90.67,591.74 91.53,590.7 92.4,589.63 93.26,588.54 94.12,587.42 94.99,586.27 95.85,585.09 96.72,583.89 97.58,582.66 98.44,581.4 99.31,580.12 100.17,578.8 101.04,577.46 101.9,576.09 102.76,574.7 103.63,573.28 104.49,571.83 105.36,570.35 106.22,568.85 107.08,567.32 107.95,565.76 108.81,564.18 109.68,562.58 110.54,560.95 111.4,559.29 112.27,557.62 113.13,555.92 114,554.2 114.86,552.46 115.72,550.7 116.59,548.92 117.45,547.12 118.32,545.3 119.18,543.47 120.04,541.62 120.91,539.76 121.77,537.89 122.64,536 123.5,534.11 124.36,532.2 125.23,530.29 126.09,528.37 126.96,526.45 127.82,524.53 128.68,522.6 129.55,520.68 130.41,518.75 131.28,516.83 132.14,514.92 133,513.01 133.87,511.12 134.73,509.23 135.6,507.36 136.46,505.5 137.32,503.66 138.19,501.84 139.05,500.04 139.92,498.27 140.78,496.52 141.64,494.8 142.51,493.11 143.37,491.45 144.24,489.82 145.1,488.23 145.96,486.68 146.83,485.17 147.69,483.7 148.56,482.28 149.42,480.9 150.28,479.57 151.15,478.29 152.01,477.07 152.88,475.89 153.74,474.78 154.6,473.72 155.47,472.73 156.33,471.79 157.2,470.92 158.06,470.12 158.92,469.38 159.79,468.7 160.65,468.1 161.52,467.57 162.38,467.11 163.24,466.72 164.11,466.41 164.97,466.17 165.84,466.01 166.7,465.92 167.56,465.91 168.43,465.98 169.29,466.12 170.16,466.35 171.02,466.65 171.88,467.03 172.75,467.49 173.61,468.02 174.48,468.64 175.34,469.33 176.2,470.1 177.07,470.94 177.93,471.86 178.8,472.86 179.66,473.93 180.52,475.07 181.39,476.28 182.25,477.56 183.12,478.91 183.98,480.32 184.84,481.8 185.71,483.35 186.57,484.95 187.44,486.61 188.3,488.34 189.16,490.11 190.03,491.94 190.89,493.82 191.76,495.75 192.62,497.72 193.48,499.73 194.35,501.79 195.21,503.88 196.08,506.01 196.94,508.17 197.8,510.36 198.67,512.58 199.53,514.82 200.4,517.08 201.26,519.36 202.12,521.65 202.99,523.96 203.85,526.28 204.72,528.6 205.58,530.93 206.44,533.26 207.31,535.59 208.17,537.91 209.04,540.23 209.9,542.54 210.76,544.84 211.63,547.12 212.49,549.39 213.36,551.63 214.22,553.86 215.08,556.06 215.95,558.24 216.81,560.4 217.68,562.52 218.54,564.61 219.4,566.67 220.27,568.7 221.13,570.69 222,572.64 222.86,574.55 223.72,576.43 224.59,578.26 225.45,580.06 226.32,581.81 227.18,583.52 228.04,585.18 228.91,586.8 229.77,588.38 230.64,589.91 231.5,591.4 232.36,592.84 233.23,594.23 234.09,595.58 234.96,596.89 235.82,598.15 236.68,599.37 237.55,600.54 238.41,601.66 239.28,602.75 240.14,603.79 241,604.79 241.87,605.74 242.73,606.66 243.6,607.54 244.46,608.38 245.32,609.17 246.19,609.94 247.05,610.66 247.92,611.35 248.78,612.01 249.64,612.63 250.51,613.22 251.37,613.78 252.24,614.31 253.1,614.81 253.96,615.28 254.83,615.72 255.69,616.14 256.56,616.53 257.42,616.9 258.28,617.25 259.15,617.58 260.01,617.88 260.88,618.16 261.74,618.43 262.6,618.68 263.47,618.91 264.33,619.12 265.2,619.32 266.06,619.51 266.92,619.68 267.79,619.84 268.65,619.98 269.52,620.12 270.38,620.24 271.24,620.36 272.11,620.47 272.97,620.56 273.84,620.65 274.7,620.73 275.56,620.81 276.43,620.88 277.29,620.94 278.16,621 279.02,621.05 279.88,621.09 280.75,621.14 281.61,621.18 282.48,621.21 283.34,621.24 284.2,621.27 285.07,621.3 285.93,621.32 286.8,621.34 287.66,621.36 288.52,621.37 289.39,621.39 290.25,621.4 291.12,621.41 291.98,621.42 292.84,621.43 293.71,621.44 294.57,621.45 295.44,621.46 296.3,621.46" class="sol"/>
<path d="M51.5 630.1H281.9" class="ax"/>
<path d="M51.5 630.1V637.3M109.1 630.1V637.3M166.7 630.1V637.3M224.3 630.1V637.3" class="axt"/>
<path d="M281.9 630.1V637.3" class="axt" style="stroke:#ececec"/>
<path d="M26.73 621.5V413.58M26.73 621.5H19.33M26.73 569.52H19.33M26.73 517.54H19.33M26.73 465.56H19.33M26.73 413.58H19.33" class="ax"/>
<text x="50.9" y="656.7" class="tl">-4</text>
<text x="108.5" y="656.7" class="tl">-2</text>
<text x="166.7" y="656.7" class="tl">0</text>
<text x="224.3" y="656.7" class="tl">2</text>
<text x="281.9" y="656.7" class="tl">4</text>
<text x="9.33" y="621.5" class="tl" transform="rotate(-90 9.33 621.5)">0.0</text>
<text x="9.33" y="569.52" class="tl" transform="rotate(-90 9.33 569.52)">0.1</text>
<text x="9.33" y="517.54" class="tl" transform="rotate(-90 9.33 517.54)">0.2</text>
<text x="9.33" y="465.56" class="tl" transform="rotate(-90 9.33 465.56)">0.3</text>
<text x="9.33" y="413.58" class="tl" transform="rotate(-90 9.33 413.58)">0.4</text>
<rect x="221.9" y="413.58" width="74.4" height="41.6" class="lg"/>
<line x1="233" y1="427.48" x2="244.6" y2="427.48" class="nrm"/>
<line x1="233" y1="440.58" x2="244.6" y2="440.58" class="sol" style="stroke:#444"/>
<text x="249.8" y="431.78" class="lt">normal</text>
<text x="249.8" y="445.18" class="lt">p_n</text>
<line x1="435.5" y1="394.45" x2="435.5" y2="629.5" class="gr"/>
<line x1="493.5" y1="394.45" x2="493.5" y2="629.5" class="gr"/>
<line x1="550.5" y1="394.45" x2="550.5" y2="629.5" class="gr"/>
<line x1="608.5" y1="394.45" x2="608.5" y2="629.5" class="gr"/>
<line x1="665.5" y1="394.45" x2="665.5" y2="629.5" class="gr"/>
<line x1="411.73" y1="621.5" x2="686.06" y2="621.5" class="gr"/>
<line x1="411.73" y1="569.52" x2="686.06" y2="569.52" class="gr"/>
<line x1="411.73" y1="517.54" x2="686.06" y2="517.54" class="gr"/>
<line x1="411.73" y1="465.56" x2="686.06" y2="465.56" class="gr"/>
<line x1="411.73" y1="413.58" x2="686.06" y2="413.58" class="gr"/>
<path d="M421.1 621.5V620.62H426.86V621.5M426.86 621.5V619.99H432.62V621.5M432.62 621.5V619.68H438.38V621.5M438.38 621.5V619.32H444.14V621.5M444.14 621.5V617.29H449.9V621.5M449.9 621.5V614.59H455.66V621.5M455.66 621.5V612.4H461.42V621.5M461.42 621.5V608.61H467.18V621.5M467.18 621.5V604.19H472.94V621.5M472.94 621.5V598.21H478.7V621.5M478.7 621.5V591.61H484.46V621.5M484.46 621.5V580.18H490.22V621.5M490.22 621.5V572.07H495.98V621.5M495.98 621.5V560.68H501.74V621.5M501.74 621.5V543.22H507.5V621.5M507.5 621.5V532.51H513.26V621.5M513.26 621.5V512.71H519.02V621.5M519.02 621.5V499.3H524.78V621.5M524.78 621.5V481.67H530.54V621.5M530.54 621.5V470.19H536.3V621.5M536.3 621.5V456.2H542.06V621.5M542.06 621.5V449.13H547.82V621.5M547.82 621.5V448.41H553.58V621.5M553.58 621.5V446.33H559.34V621.5M559.34 621.5V454.9H565.1V621.5M565.1 621.5V463.38H570.86V621.5M570.86 621.5V481H576.62V621.5M576.62 621.5V499.92H582.38V621.5M582.38 621.5V517.12H588.14V621.5M588.14 621.5V538.18H593.9V621.5M593.9 621.5V560.16H599.66V621.5M599.66 621.5V577.52H605.42V621.5M605.42 621.5V589.95H611.18V621.5M611.18 621.5V600.19H616.94V621.5M616.94 621.5V609.13H622.7V621.5M622.7 621.5V614.22H628.46V621.5M628.46 621.5V617.29H634.22V621.5M634.22 621.5V619.37H639.98V621.5M639.98 621.5V620.51H645.74V621.5M645.74 621.5V620.93H651.5V621.5M651.5 621.5V621.29H657.26V621.5M657.26 621.5V621.29H663.02V621.5M663.02 621.5V621.29H668.78V621.5M668.78 621.5V621.29H674.54V621.5M674.54 621.5V621.29H680.3V621.5" class="bar"/>
<line x1="421.1" y1="621.5" x2="680.3" y2="621.5" class="bb"/>
<polyline points="421.1,621.4 421.96,621.39 422.83,621.38 423.69,621.37 424.56,621.35 425.42,621.34 426.28,621.32 427.15,621.31 428.01,621.29 428.88,621.26 429.74,621.24 430.6,621.22 431.47,621.19 432.33,621.16 433.2,621.13 434.06,621.09 434.92,621.05 435.79,621.01 436.65,620.97 437.52,620.92 438.38,620.86 439.24,620.81 440.11,620.75 440.97,620.68 441.84,620.61 442.7,620.53 443.56,620.44 444.43,620.35 445.29,620.25 446.16,620.15 447.02,620.04 447.88,619.92 448.75,619.78 449.61,619.64 450.48,619.49 451.34,619.33 452.2,619.16 453.07,618.98 453.93,618.78 454.8,618.57 455.66,618.35 456.52,618.11 457.39,617.85 458.25,617.58 459.12,617.29 459.98,616.99 460.84,616.66 461.71,616.32 462.57,615.95 463.44,615.56 464.3,615.15 465.16,614.71 466.03,614.25 466.89,613.76 467.76,613.25 468.62,612.71 469.48,612.13 470.35,611.53 471.21,610.9 472.08,610.23 472.94,609.53 473.8,608.79 474.67,608.02 475.53,607.21 476.4,606.36 477.26,605.47 478.12,604.54 478.99,603.57 479.85,602.55 480.72,601.49 481.58,600.39 482.44,599.24 483.31,598.04 484.17,596.8 485.04,595.5 485.9,594.16 486.76,592.77 487.63,591.32 488.49,589.83 489.36,588.28 490.22,586.68 491.08,585.03 491.95,583.32 492.81,581.56 493.68,579.75 494.54,577.89 495.4,575.97 496.27,574 497.13,571.98 498,569.9 498.86,567.78 499.72,565.6 500.59,563.38 501.45,561.1 502.32,558.78 503.18,556.42 504.04,554.01 504.91,551.55 505.77,549.06 506.64,546.53 507.5,543.96 508.36,541.35 509.23,538.72 510.09,536.05 510.96,533.36 511.82,530.64 512.68,527.9 513.55,525.15 514.41,522.38 515.28,519.59 516.14,516.8 517,514 517.87,511.21 518.73,508.41 519.6,505.63 520.46,502.85 521.32,500.08 522.19,497.34 523.05,494.62 523.92,491.92 524.78,489.26 525.64,486.63 526.51,484.04 527.37,481.5 528.24,479 529.1,476.55 529.96,474.16 530.83,471.84 531.69,469.57 532.56,467.38 533.42,465.25 534.28,463.21 535.15,461.24 536.01,459.36 536.88,457.56 537.74,455.86 538.6,454.25 539.47,452.74 540.33,451.32 541.2,450.01 542.06,448.81 542.92,447.71 543.79,446.72 544.65,445.84 545.52,445.08 546.38,444.43 547.24,443.9 548.11,443.48 548.97,443.19 549.84,443.01 550.7,442.95 551.56,443.01 552.43,443.19 553.29,443.48 554.16,443.9 555.02,444.43 555.88,445.08 556.75,445.84 557.61,446.72 558.48,447.71 559.34,448.81 560.2,450.01 561.07,451.32 561.93,452.74 562.8,454.25 563.66,455.86 564.52,457.56 565.39,459.36 566.25,461.24 567.12,463.21 567.98,465.25 568.84,467.38 569.71,469.57 570.57,471.84 571.44,474.16 572.3,476.55 573.16,479 574.03,481.5 574.89,484.04 575.76,486.63 576.62,489.26 577.48,491.92 578.35,494.62 579.21,497.34 580.08,500.08 580.94,502.85 581.8,505.63 582.67,508.41 583.53,511.21 584.4,514 585.26,516.8 586.12,519.59 586.99,522.38 587.85,525.15 588.72,527.9 589.58,530.64 590.44,533.36 591.31,536.05 592.17,538.72 593.04,541.35 593.9,543.96 594.76,546.53 595.63,549.06 596.49,551.55 597.36,554.01 598.22,556.42 599.08,558.78 599.95,561.1 600.81,563.38 601.68,565.6 602.54,567.78 603.4,569.9 604.27,571.98 605.13,574 606,575.97 606.86,577.89 607.72,579.75 608.59,581.56 609.45,583.32 610.32,585.03 611.18,586.68 612.04,588.28 612.91,589.83 613.77,591.32 614.64,592.77 615.5,594.16 616.36,595.5 617.23,596.8 618.09,598.04 618.96,599.24 619.82,600.39 620.68,601.49 621.55,602.55 622.41,603.57 623.28,604.54 624.14,605.47 625,606.36 625.87,607.21 626.73,608.02 627.6,608.79 628.46,609.53 629.32,610.23 630.19,610.9 631.05,611.53 631.92,612.13 632.78,612.71 633.64,613.25 634.51,613.76 635.37,614.25 636.24,614.71 637.1,615.15 637.96,615.56 638.83,615.95 639.69,616.32 640.56,616.66 641.42,616.99 642.28,617.29 643.15,617.58 644.01,617.85 644.88,618.11 645.74,618.35 646.6,618.57 647.47,618.78 648.33,618.98 649.2,619.16 650.06,619.33 650.92,619.49 651.79,619.64 652.65,619.78 653.52,619.92 654.38,620.04 655.24,620.15 656.11,620.25 656.97,620.35 657.84,620.44 658.7,620.53 659.56,620.61 660.43,620.68 661.29,620.75 662.16,620.81 663.02,620.86 663.88,620.92 664.75,620.97 665.61,621.01 666.48,621.05 667.34,621.09 668.2,621.13 669.07,621.16 669.93,621.19 670.8,621.22 671.66,621.24 672.52,621.26 673.39,621.29 674.25,621.31 675.12,621.32 675.98,621.34 676.84,621.35 677.71,621.37 678.57,621.38 679.44,621.39 680.3,621.4" class="nrm"/>
<polyline points="421.1,621.3 421.96,621.28 422.83,621.25 423.69,621.23 424.56,621.2 425.42,621.17 426.28,621.13 427.15,621.09 428.01,621.05 428.88,621 429.74,620.95 430.6,620.9 431.47,620.84 432.33,620.78 433.2,620.71 434.06,620.63 434.92,620.55 435.79,620.47 436.65,620.38 437.52,620.28 438.38,620.17 439.24,620.05 440.11,619.93 440.97,619.8 441.84,619.66 442.7,619.51 443.56,619.34 444.43,619.17 445.29,618.99 446.16,618.79 447.02,618.59 447.88,618.37 448.75,618.13 449.61,617.88 450.48,617.62 451.34,617.34 452.2,617.05 453.07,616.73 453.93,616.41 454.8,616.06 455.66,615.69 456.52,615.31 457.39,614.9 458.25,614.47 459.12,614.03 459.98,613.56 460.84,613.06 461.71,612.54 462.57,612 463.44,611.43 464.3,610.84 465.16,610.22 466.03,609.57 466.89,608.9 467.76,608.19 468.62,607.46 469.48,606.69 470.35,605.89 471.21,605.07 472.08,604.2 472.94,603.31 473.8,602.38 474.67,601.42 475.53,600.42 476.4,599.39 477.26,598.32 478.12,597.21 478.99,596.07 479.85,594.89 480.72,593.67 481.58,592.41 482.44,591.12 483.31,589.78 484.17,588.4 485.04,586.99 485.9,585.53 486.76,584.04 487.63,582.5 488.49,580.92 489.36,579.31 490.22,577.65 491.08,575.95 491.95,574.21 492.81,572.43 493.68,570.61 494.54,568.75 495.4,566.86 496.27,564.92 497.13,562.95 498,560.94 498.86,558.89 499.72,556.8 500.59,554.68 501.45,552.53 502.32,550.34 503.18,548.12 504.04,545.87 504.91,543.59 505.77,541.28 506.64,538.95 507.5,536.58 508.36,534.2 509.23,531.79 510.09,529.36 510.96,526.92 511.82,524.45 512.68,521.97 513.55,519.48 514.41,516.98 515.28,514.48 516.14,511.96 517,509.44 517.87,506.93 518.73,504.41 519.6,501.9 520.46,499.4 521.32,496.91 522.19,494.43 523.05,491.97 523.92,489.53 524.78,487.11 525.64,484.72 526.51,482.36 527.37,480.03 528.24,477.74 529.1,475.48 529.96,473.27 530.83,471.11 531.69,469 532.56,466.93 533.42,464.93 534.28,462.99 535.15,461.11 536.01,459.3 536.88,457.55 537.74,455.89 538.6,454.29 539.47,452.78 540.33,451.36 541.2,450.02 542.06,448.77 542.92,447.61 543.79,446.55 544.65,445.59 545.52,444.73 546.38,443.97 547.24,443.32 548.11,442.77 548.97,442.34 549.84,442.02 550.7,441.81 551.56,441.71 552.43,441.73 553.29,441.87 554.16,442.13 555.02,442.51 555.88,443 556.75,443.62 557.61,444.35 558.48,445.21 559.34,446.18 560.2,447.27 561.07,448.48 561.93,449.8 562.8,451.24 563.66,452.79 564.52,454.45 565.39,456.21 566.25,458.09 567.12,460.06 567.98,462.14 568.84,464.31 569.71,466.58 570.57,468.93 571.44,471.38 572.3,473.9 573.16,476.5 574.03,479.18 574.89,481.92 575.76,484.73 576.62,487.59 577.48,490.52 578.35,493.49 579.21,496.5 580.08,499.56 580.94,502.65 581.8,505.76 582.67,508.9 583.53,512.06 584.4,515.23 585.26,518.41 586.12,521.59 586.99,524.77 587.85,527.94 588.72,531.09 589.58,534.23 590.44,537.35 591.31,540.44 592.17,543.49 593.04,546.52 593.9,549.5 594.76,552.44 595.63,555.33 596.49,558.17 597.36,560.95 598.22,563.68 599.08,566.35 599.95,568.95 600.81,571.5 601.68,573.97 602.54,576.38 603.4,578.71 604.27,580.97 605.13,583.16 606,585.28 606.86,587.32 607.72,589.29 608.59,591.19 609.45,593.01 610.32,594.75 611.18,596.42 612.04,598.02 612.91,599.55 613.77,601 614.64,602.38 615.5,603.7 616.36,604.95 617.23,606.13 618.09,607.25 618.96,608.3 619.82,609.3 620.68,610.23 621.55,611.11 622.41,611.94 623.28,612.71 624.14,613.44 625,614.11 625.87,614.74 626.73,615.32 627.6,615.87 628.46,616.37 629.32,616.84 630.19,617.27 631.05,617.67 631.92,618.03 632.78,618.37 633.64,618.67 634.51,618.96 635.37,619.22 636.24,619.45 637.1,619.66 637.96,619.86 638.83,620.04 639.69,620.2 640.56,620.34 641.42,620.47 642.28,620.59 643.15,620.69 644.01,620.79 644.88,620.87 645.74,620.95 646.6,621.02 647.47,621.08 648.33,621.13 649.2,621.18 650.06,621.22 650.92,621.26 651.79,621.29 652.65,621.32 653.52,621.34 654.38,621.36 655.24,621.38 656.11,621.4 656.97,621.41 657.84,621.43 658.7,621.44 659.56,621.45 660.43,621.45 661.29,621.46 662.16,621.47 663.02,621.47 663.88,621.48 664.75,621.48 665.61,621.48 666.48,621.49 667.34,621.49 668.2,621.49 669.07,621.49 669.93,621.49 670.8,621.49 671.66,621.5 672.52,621.5 673.39,621.5 674.25,621.5 675.12,621.5 675.98,621.5 676.84,621.5 677.71,621.5 678.57,621.5 679.44,621.5 680.3,621.5" class="sol"/>
<path d="M435.5 630.1H665.9" class="ax"/>
<path d="M435.5 630.1V637.3M493.1 630.1V637.3M550.7 630.1V637.3M608.3 630.1V637.3" class="axt"/>
<path d="M665.9 630.1V637.3" class="axt" style="stroke:#ececec"/>
<path d="M410.73 621.5V413.58M410.73 621.5H403.33M410.73 569.52H403.33M410.73 517.54H403.33M410.73 465.56H403.33M410.73 413.58H403.33" class="ax"/>
<text x="434.9" y="656.7" class="tl">-4</text>
<text x="492.5" y="656.7" class="tl">-2</text>
<text x="550.7" y="656.7" class="tl">0</text>
<text x="608.3" y="656.7" class="tl">2</text>
<text x="665.9" y="656.7" class="tl">4</text>
<text x="393.33" y="621.5" class="tl" transform="rotate(-90 393.33 621.5)">0.0</text>
<text x="393.33" y="569.52" class="tl" transform="rotate(-90 393.33 569.52)">0.1</text>
<text x="393.33" y="517.54" class="tl" transform="rotate(-90 393.33 517.54)">0.2</text>
<text x="393.33" y="465.56" class="tl" transform="rotate(-90 393.33 465.56)">0.3</text>
<text x="393.33" y="413.58" class="tl" transform="rotate(-90 393.33 413.58)">0.4</text>
<rect x="605.9" y="413.58" width="74.4" height="41.6" class="lg"/>
<line x1="617" y1="427.48" x2="628.6" y2="427.48" class="nrm"/>
<line x1="617" y1="440.58" x2="628.6" y2="440.58" class="sol" style="stroke:#444"/>
<text x="633.8" y="431.78" class="lt">normal</text>
<text x="633.8" y="445.18" class="lt">p_n</text>
<line x1="51.5" y1="723.15" x2="51.5" y2="958.2" class="gr"/>
<line x1="109.5" y1="723.15" x2="109.5" y2="958.2" class="gr"/>
<line x1="166.5" y1="723.15" x2="166.5" y2="958.2" class="gr"/>
<line x1="224.5" y1="723.15" x2="224.5" y2="958.2" class="gr"/>
<line x1="281.5" y1="723.15" x2="281.5" y2="958.2" class="gr"/>
<line x1="27.73" y1="950.2" x2="302.06" y2="950.2" class="gr"/>
<line x1="27.73" y1="898.22" x2="302.06" y2="898.22" class="gr"/>
<line x1="27.73" y1="846.24" x2="302.06" y2="846.24" class="gr"/>
<line x1="27.73" y1="794.26" x2="302.06" y2="794.26" class="gr"/>
<line x1="27.73" y1="742.28" x2="302.06" y2="742.28" class="gr"/>
<path d="M37.1 950.2V949.78H42.86V950.2M42.86 950.2V949.58H48.62V950.2M48.62 950.2V949.37H54.38V950.2M54.38 950.2V949.06H60.14V950.2M60.14 950.2V948.02H65.9V950.2M65.9 950.2V945.42H71.66V950.2M71.66 950.2V943.6H77.42V950.2M77.42 950.2V940.27H83.18V950.2M83.18 950.2V937.31H88.94V950.2M88.94 950.2V932.11H94.7V950.2M94.7 950.2V925.3H100.46V950.2M100.46 950.2V915.11H106.22V950.2M106.22 950.2V906.38H111.98V950.2M111.98 950.2V893.07H117.74V950.2M117.74 950.2V880.29H123.5V950.2M123.5 950.2V860.69H129.26V950.2M129.26 950.2V843.23H135.02V950.2M135.02 950.2V823.32H140.78V950.2M140.78 950.2V807.41H146.54V950.2M146.54 950.2V790.21H152.3V950.2M152.3 950.2V774.92H158.06V950.2M158.06 950.2V759.8H163.82V950.2M163.82 950.2V760.58H169.58V950.2M169.58 950.2V759.28H175.34V950.2M175.34 950.2V768.11H181.1V950.2M181.1 950.2V784.02H186.86V950.2M186.86 950.2V801.12H192.62V950.2M192.62 950.2V825.45H198.38V950.2M198.38 950.2V849.46H204.14V950.2M204.14 950.2V873.95H209.9V950.2M209.9 950.2V897.18H215.66V950.2M215.66 950.2V913.29H221.42V950.2M221.42 950.2V928.16H227.18V950.2M227.18 950.2V937.21H232.94V950.2M232.94 950.2V943.55H238.7V950.2M238.7 950.2V946.98H244.46V950.2M244.46 950.2V948.38H250.22V950.2M250.22 950.2V949.32H255.98V950.2M255.98 950.2V949.73H261.74V950.2M261.74 950.2V949.73H267.5V950.2M267.5 950.2V949.73H273.26V950.2M273.26 950.2V949.73H279.02V950.2M279.02 950.2V949.73H284.78V950.2M284.78 950.2V949.73H290.54V950.2M290.54 950.2V949.73H296.3V950.2" class="bar"/>
<line x1="37.1" y1="950.2" x2="296.3" y2="950.2" class="bb"/>
<polyline points="37.1,950.18 37.96,950.17 38.83,950.17 39.69,950.16 40.56,950.16 41.42,950.16 42.28,950.15 43.15,950.14 44.01,950.14 44.88,950.13 45.74,950.12 46.6,950.11 47.47,950.1 48.33,950.09 49.2,950.08 50.06,950.06 50.92,950.05 51.79,950.03 52.65,950.01 53.52,949.99 54.38,949.97 55.24,949.94 56.11,949.92 56.97,949.89 57.84,949.85 58.7,949.82 59.56,949.78 60.43,949.73 61.29,949.68 62.16,949.63 63.02,949.57 63.88,949.51 64.75,949.44 65.61,949.37 66.48,949.29 67.34,949.2 68.2,949.1 69.07,949 69.93,948.89 70.8,948.76 71.66,948.63 72.52,948.49 73.39,948.33 74.25,948.17 75.12,947.99 75.98,947.79 76.84,947.58 77.71,947.36 78.57,947.12 79.44,946.86 80.3,946.58 81.16,946.28 82.03,945.96 82.89,945.62 83.76,945.25 84.62,944.86 85.48,944.44 86.35,943.99 87.21,943.52 88.08,943.01 88.94,942.47 89.8,941.9 90.67,941.3 91.53,940.65 92.4,939.97 93.26,939.25 94.12,938.49 94.99,937.68 95.85,936.83 96.72,935.93 97.58,934.98 98.44,933.99 99.31,932.94 100.17,931.84 101.04,930.69 101.9,929.48 102.76,928.21 103.63,926.88 104.49,925.49 105.36,924.04 106.22,922.53 107.08,920.95 107.95,919.31 108.81,917.6 109.68,915.83 110.54,913.98 111.4,912.07 112.27,910.09 113.13,908.04 114,905.92 114.86,903.74 115.72,901.48 116.59,899.15 117.45,896.76 118.32,894.29 119.18,891.76 120.04,889.17 120.91,886.51 121.77,883.79 122.64,881 123.5,878.16 124.36,875.26 125.23,872.3 126.09,869.3 126.96,866.24 127.82,863.14 128.68,859.99 129.55,856.81 130.41,853.59 131.28,850.34 132.14,847.06 133,843.76 133.87,840.44 134.73,837.11 135.6,833.77 136.46,830.43 137.32,827.09 138.19,823.76 139.05,820.44 139.92,817.14 140.78,813.86 141.64,810.61 142.51,807.41 143.37,804.24 144.24,801.12 145.1,798.06 145.96,795.06 146.83,792.13 147.69,789.26 148.56,786.48 149.42,783.78 150.28,781.17 151.15,778.66 152.01,776.25 152.88,773.95 153.74,771.76 154.6,769.68 155.47,767.73 156.33,765.9 157.2,764.2 158.06,762.64 158.92,761.21 159.79,759.93 160.65,758.79 161.52,757.79 162.38,756.95 163.24,756.25 164.11,755.71 164.97,755.32 165.84,755.09 166.7,755.01 167.56,755.09 168.43,755.32 169.29,755.71 170.16,756.25 171.02,756.95 171.88,757.79 172.75,758.79 173.61,759.93 174.48,761.21 175.34,762.64 176.2,764.2 177.07,765.9 177.93,767.73 178.8,769.68 179.66,771.76 180.52,773.95 181.39,776.25 182.25,778.66 183.12,781.17 183.98,783.78 184.84,786.48 185.71,789.26 186.57,792.13 187.44,795.06 188.3,798.06 189.16,801.12 190.03,804.24 190.89,807.41 191.76,810.61 192.62,813.86 193.48,817.14 194.35,820.44 195.21,823.76 196.08,827.09 196.94,830.43 197.8,833.77 198.67,837.11 199.53,840.44 200.4,843.76 201.26,847.06 202.12,850.34 202.99,853.59 203.85,856.81 204.72,859.99 205.58,863.14 206.44,866.24 207.31,869.3 208.17,872.3 209.04,875.26 209.9,878.16 210.76,881 211.63,883.79 212.49,886.51 213.36,889.17 214.22,891.76 215.08,894.29 215.95,896.76 216.81,899.15 217.68,901.48 218.54,903.74 219.4,905.92 220.27,908.04 221.13,910.09 222,912.07 222.86,913.98 223.72,915.83 224.59,917.6 225.45,919.31 226.32,920.95 227.18,922.53 228.04,924.04 228.91,925.49 229.77,926.88 230.64,928.21 231.5,929.48 232.36,930.69 233.23,931.84 234.09,932.94 234.96,933.99 235.82,934.98 236.68,935.93 237.55,936.83 238.41,937.68 239.28,938.49 240.14,939.25 241,939.97 241.87,940.65 242.73,941.3 243.6,941.9 244.46,942.47 245.32,943.01 246.19,943.52 247.05,943.99 247.92,944.44 248.78,944.86 249.64,945.25 250.51,945.62 251.37,945.96 252.24,946.28 253.1,946.58 253.96,946.86 254.83,947.12 255.69,947.36 256.56,947.58 257.42,947.79 258.28,947.99 259.15,948.17 260.01,948.33 260.88,948.49 261.74,948.63 262.6,948.76 263.47,948.89 264.33,949 265.2,949.1 266.06,949.2 266.92,949.29 267.79,949.37 268.65,949.44 269.52,949.51 270.38,949.57 271.24,949.63 272.11,949.68 272.97,949.73 273.84,949.78 274.7,949.82 275.56,949.85 276.43,949.89 277.29,949.92 278.16,949.94 279.02,949.97 279.88,949.99 280.75,950.01 281.61,950.03 282.48,950.05 283.34,950.06 284.2,950.08 285.07,950.09 285.93,950.1 286.8,950.11 287.66,950.12 288.52,950.13 289.39,950.14 290.25,950.14 291.12,950.15 291.98,950.16 292.84,950.16 293.71,950.16 294.57,950.17 295.44,950.17 296.3,950.18" class="nrm"/>
<polyline points="37.1,949.87 37.96,949.85 38.83,949.82 39.69,949.79 40.56,949.76 41.42,949.72 42.28,949.69 43.15,949.65 44.01,949.61 44.88,949.56 45.74,949.51 46.6,949.46 47.47,949.41 48.33,949.35 49.2,949.29 50.06,949.22 50.92,949.15 51.79,949.07 52.65,948.99 53.52,948.9 54.38,948.81 55.24,948.72 56.11,948.61 56.97,948.5 57.84,948.38 58.7,948.26 59.56,948.13 60.43,947.99 61.29,947.84 62.16,947.68 63.02,947.51 63.88,947.34 64.75,947.15 65.61,946.95 66.48,946.74 67.34,946.52 68.2,946.29 69.07,946.04 69.93,945.78 70.8,945.5 71.66,945.21 72.52,944.91 73.39,944.58 74.25,944.24 75.12,943.89 75.98,943.51 76.84,943.11 77.71,942.7 78.57,942.26 79.44,941.8 80.3,941.32 81.16,940.82 82.03,940.29 82.89,939.73 83.76,939.15 84.62,938.55 85.48,937.91 86.35,937.25 87.21,936.55 88.08,935.83 88.94,935.07 89.8,934.28 90.67,933.46 91.53,932.6 92.4,931.71 93.26,930.78 94.12,929.81 94.99,928.81 95.85,927.76 96.72,926.68 97.58,925.55 98.44,924.38 99.31,923.17 100.17,921.91 101.04,920.61 101.9,919.26 102.76,917.87 103.63,916.43 104.49,914.95 105.36,913.41 106.22,911.83 107.08,910.19 107.95,908.51 108.81,906.77 109.68,904.99 110.54,903.15 111.4,901.27 112.27,899.33 113.13,897.34 114,895.3 114.86,893.21 115.72,891.07 116.59,888.88 117.45,886.64 118.32,884.35 119.18,882.01 120.04,879.62 120.91,877.19 121.77,874.71 122.64,872.19 123.5,869.62 124.36,867.01 125.23,864.36 126.09,861.68 126.96,858.95 127.82,856.19 128.68,853.4 129.55,850.58 130.41,847.74 131.28,844.87 132.14,841.97 133,839.06 133.87,836.13 134.73,833.19 135.6,830.24 136.46,827.29 137.32,824.33 138.19,821.37 139.05,818.42 139.92,815.48 140.78,812.56 141.64,809.65 142.51,806.77 143.37,803.91 144.24,801.09 145.1,798.31 145.96,795.56 146.83,792.86 147.69,790.22 148.56,787.63 149.42,785.1 150.28,782.64 151.15,780.26 152.01,777.95 152.88,775.72 153.74,773.58 154.6,771.53 155.47,769.57 156.33,767.72 157.2,765.98 158.06,764.34 158.92,762.83 159.79,761.43 160.65,760.15 161.52,759.01 162.38,757.99 163.24,757.11 164.11,756.37 164.97,755.77 165.84,755.31 166.7,755 167.56,754.85 168.43,754.84 169.29,754.98 170.16,755.28 171.02,755.73 171.88,756.34 172.75,757.1 173.61,758.02 174.48,759.09 175.34,760.32 176.2,761.7 177.07,763.23 177.93,764.91 178.8,766.73 179.66,768.7 180.52,770.81 181.39,773.06 182.25,775.44 183.12,777.94 183.98,780.57 184.84,783.32 185.71,786.18 186.57,789.15 187.44,792.22 188.3,795.39 189.16,798.65 190.03,801.99 190.89,805.4 191.76,808.88 192.62,812.43 193.48,816.03 194.35,819.67 195.21,823.36 196.08,827.08 196.94,830.82 197.8,834.58 198.67,838.35 199.53,842.12 200.4,845.88 201.26,849.64 202.12,853.37 202.99,857.08 203.85,860.76 204.72,864.4 205.58,868 206.44,871.54 207.31,875.03 208.17,878.46 209.04,881.82 209.9,885.11 210.76,888.33 211.63,891.47 212.49,894.52 213.36,897.49 214.22,900.38 215.08,903.17 215.95,905.87 216.81,908.48 217.68,910.99 218.54,913.41 219.4,915.73 220.27,917.95 221.13,920.08 222,922.11 222.86,924.05 223.72,925.89 224.59,927.64 225.45,929.3 226.32,930.87 227.18,932.35 228.04,933.74 228.91,935.06 229.77,936.29 230.64,937.44 231.5,938.53 232.36,939.53 233.23,940.47 234.09,941.35 234.96,942.16 235.82,942.91 236.68,943.6 237.55,944.24 238.41,944.82 239.28,945.36 240.14,945.86 241,946.31 241.87,946.72 242.73,947.1 243.6,947.44 244.46,947.74 245.32,948.02 246.19,948.27 247.05,948.5 247.92,948.7 248.78,948.88 249.64,949.05 250.51,949.19 251.37,949.32 252.24,949.43 253.1,949.53 253.96,949.62 254.83,949.7 255.69,949.77 256.56,949.83 257.42,949.88 258.28,949.93 259.15,949.97 260.01,950 260.88,950.03 261.74,950.06 262.6,950.08 263.47,950.1 264.33,950.12 265.2,950.13 266.06,950.14 266.92,950.15 267.79,950.16 268.65,950.17 269.52,950.17 270.38,950.18 271.24,950.18 272.11,950.18 272.97,950.19 273.84,950.19 274.7,950.19 275.56,950.19 276.43,950.19 277.29,950.2 278.16,950.2 279.02,950.2 279.88,950.2 280.75,950.2 281.61,950.2 282.48,950.2 283.34,950.2 284.2,950.2 285.07,950.2 285.93,950.2 286.8,950.2 287.66,950.2 288.52,950.2 289.39,950.2 290.25,950.2 291.12,950.2 291.98,950.2 292.84,950.2 293.71,950.2 294.57,950.2 295.44,950.2 296.3,950.2" class="sol"/>
<path d="M51.5 958.8H281.9" class="ax"/>
<path d="M51.5 958.8V966M109.1 958.8V966M166.7 958.8V966M224.3 958.8V966" class="axt"/>
<path d="M281.9 958.8V966" class="axt" style="stroke:#ececec"/>
<path d="M26.73 950.2V742.28M26.73 950.2H19.33M26.73 898.22H19.33M26.73 846.24H19.33M26.73 794.26H19.33M26.73 742.28H19.33" class="ax"/>
<text x="50.9" y="985.4" class="tl">-4</text>
<text x="108.5" y="985.4" class="tl">-2</text>
<text x="166.7" y="985.4" class="tl">0</text>
<text x="224.3" y="985.4" class="tl">2</text>
<text x="281.9" y="985.4" class="tl">4</text>
<text x="9.33" y="950.2" class="tl" transform="rotate(-90 9.33 950.2)">0.0</text>
<text x="9.33" y="898.22" class="tl" transform="rotate(-90 9.33 898.22)">0.1</text>
<text x="9.33" y="846.24" class="tl" transform="rotate(-90 9.33 846.24)">0.2</text>
<text x="9.33" y="794.26" class="tl" transform="rotate(-90 9.33 794.26)">0.3</text>
<text x="9.33" y="742.28" class="tl" transform="rotate(-90 9.33 742.28)">0.4</text>
<rect x="221.9" y="742.28" width="74.4" height="41.6" class="lg"/>
<line x1="233" y1="756.18" x2="244.6" y2="756.18" class="nrm"/>
<line x1="233" y1="769.28" x2="244.6" y2="769.28" class="sol" style="stroke:#444"/>
<text x="249.8" y="760.48" class="lt">normal</text>
<text x="249.8" y="773.88" class="lt">p_n</text>
<line x1="435.5" y1="723.15" x2="435.5" y2="958.2" class="gr"/>
<line x1="493.5" y1="723.15" x2="493.5" y2="958.2" class="gr"/>
<line x1="550.5" y1="723.15" x2="550.5" y2="958.2" class="gr"/>
<line x1="608.5" y1="723.15" x2="608.5" y2="958.2" class="gr"/>
<line x1="665.5" y1="723.15" x2="665.5" y2="958.2" class="gr"/>
<line x1="411.73" y1="950.2" x2="686.06" y2="950.2" class="gr"/>
<line x1="411.73" y1="898.22" x2="686.06" y2="898.22" class="gr"/>
<line x1="411.73" y1="846.24" x2="686.06" y2="846.24" class="gr"/>
<line x1="411.73" y1="794.26" x2="686.06" y2="794.26" class="gr"/>
<line x1="411.73" y1="742.28" x2="686.06" y2="742.28" class="gr"/>
<path d="M421.1 950.2V949.94H426.86V950.2M426.86 950.2V949.94H432.62V950.2M432.62 950.2V949.84H438.38V950.2M438.38 950.2V949.58H444.14V950.2M444.14 950.2V949.06H449.9V950.2M449.9 950.2V947.6H455.66V950.2M455.66 950.2V945.21H461.42V950.2M461.42 950.2V944.12H467.18V950.2M467.18 950.2V940.06H472.94V950.2M472.94 950.2V936.48H478.7V950.2M478.7 950.2V931.02H484.46V950.2M484.46 950.2V923.12H490.22V950.2M490.22 950.2V911.32H495.98V950.2M495.98 950.2V901.08H501.74V950.2M501.74 950.2V885.69H507.5V950.2M507.5 950.2V865.21H513.26V950.2M513.26 950.2V844.21H519.02V950.2M519.02 950.2V823.21H524.78V950.2M524.78 950.2V800.39H530.54V950.2M530.54 950.2V779.39H536.3V950.2M536.3 950.2V757.87H542.06V950.2M542.06 950.2V746.13H547.82V950.2M547.82 950.2V737.39H553.58V950.2M553.58 950.2V738.12H559.34V950.2M559.34 950.2V752.31H565.1V950.2M565.1 950.2V771.23H570.86V950.2M570.86 950.2V796.03H576.62V950.2M576.62 950.2V827.22H582.38V950.2M582.38 950.2V859.08H588.14V950.2M588.14 950.2V883.04H593.9V950.2M593.9 950.2V907.99H599.66V950.2M599.66 950.2V926.08H605.42V950.2M605.42 950.2V936.89H611.18V950.2M611.18 950.2V944.22H616.94V950.2M616.94 950.2V947.08H622.7V950.2M622.7 950.2V949.11H628.46V950.2M628.46 950.2V949.68H634.22V950.2M634.22 950.2V949.68H639.98V950.2M639.98 950.2V949.68H645.74V950.2M645.74 950.2V949.68H651.5V950.2M651.5 950.2V949.68H657.26V950.2M657.26 950.2V949.68H663.02V950.2M663.02 950.2V949.68H668.78V950.2M668.78 950.2V949.68H674.54V950.2M674.54 950.2V949.68H680.3V950.2" class="bar"/>
<line x1="421.1" y1="950.2" x2="680.3" y2="950.2" class="bb"/>
<polyline points="421.1,950.2 421.96,950.2 422.83,950.2 423.69,950.19 424.56,950.19 425.42,950.19 426.28,950.19 427.15,950.19 428.01,950.19 428.88,950.19 429.74,950.19 430.6,950.18 431.47,950.18 432.33,950.18 433.2,950.17 434.06,950.17 434.92,950.17 435.79,950.16 436.65,950.16 437.52,950.15 438.38,950.14 439.24,950.14 440.11,950.13 440.97,950.12 441.84,950.11 442.7,950.1 443.56,950.08 444.43,950.07 445.29,950.05 446.16,950.03 447.02,950.01 447.88,949.99 448.75,949.96 449.61,949.93 450.48,949.9 451.34,949.86 452.2,949.82 453.07,949.78 453.93,949.73 454.8,949.68 455.66,949.62 456.52,949.55 457.39,949.48 458.25,949.4 459.12,949.31 459.98,949.21 460.84,949.11 461.71,948.99 462.57,948.86 463.44,948.72 464.3,948.57 465.16,948.41 466.03,948.22 466.89,948.03 467.76,947.81 468.62,947.58 469.48,947.32 470.35,947.05 471.21,946.75 472.08,946.43 472.94,946.08 473.8,945.7 474.67,945.3 475.53,944.86 476.4,944.39 477.26,943.88 478.12,943.34 478.99,942.75 479.85,942.13 480.72,941.46 481.58,940.74 482.44,939.98 483.31,939.16 484.17,938.29 485.04,937.37 485.9,936.38 486.76,935.34 487.63,934.23 488.49,933.06 489.36,931.82 490.22,930.5 491.08,929.12 491.95,927.66 492.81,926.12 493.68,924.5 494.54,922.8 495.4,921.02 496.27,919.15 497.13,917.2 498,915.15 498.86,913.01 499.72,910.79 500.59,908.47 501.45,906.05 502.32,903.54 503.18,900.94 504.04,898.25 504.91,895.46 505.77,892.57 506.64,889.6 507.5,886.53 508.36,883.37 509.23,880.13 510.09,876.8 510.96,873.38 511.82,869.89 512.68,866.31 513.55,862.67 514.41,858.96 515.28,855.18 516.14,851.34 517,847.44 517.87,843.5 518.73,839.52 519.6,835.5 520.46,831.45 521.32,827.37 522.19,823.28 523.05,819.18 523.92,815.08 524.78,810.99 525.64,806.92 526.51,802.87 527.37,798.86 528.24,794.88 529.1,790.96 529.96,787.1 530.83,783.31 531.69,779.6 532.56,775.97 533.42,772.45 534.28,769.03 535.15,765.72 536.01,762.53 536.88,759.48 537.74,756.57 538.6,753.8 539.47,751.19 540.33,748.75 541.2,746.47 542.06,744.37 542.92,742.45 543.79,740.71 544.65,739.17 545.52,737.83 546.38,736.68 547.24,735.74 548.11,735 548.97,734.48 549.84,734.16 550.7,734.05 551.56,734.16 552.43,734.48 553.29,735 554.16,735.74 555.02,736.68 555.88,737.83 556.75,739.17 557.61,740.71 558.48,742.45 559.34,744.37 560.2,746.47 561.07,748.75 561.93,751.19 562.8,753.8 563.66,756.57 564.52,759.48 565.39,762.53 566.25,765.72 567.12,769.03 567.98,772.45 568.84,775.97 569.71,779.6 570.57,783.31 571.44,787.1 572.3,790.96 573.16,794.88 574.03,798.86 574.89,802.87 575.76,806.92 576.62,810.99 577.48,815.08 578.35,819.18 579.21,823.28 580.08,827.37 580.94,831.45 581.8,835.5 582.67,839.52 583.53,843.5 584.4,847.44 585.26,851.34 586.12,855.18 586.99,858.96 587.85,862.67 588.72,866.31 589.58,869.89 590.44,873.38 591.31,876.8 592.17,880.13 593.04,883.37 593.9,886.53 594.76,889.6 595.63,892.57 596.49,895.46 597.36,898.25 598.22,900.94 599.08,903.54 599.95,906.05 600.81,908.47 601.68,910.79 602.54,913.01 603.4,915.15 604.27,917.2 605.13,919.15 606,921.02 606.86,922.8 607.72,924.5 608.59,926.12 609.45,927.66 610.32,929.12 611.18,930.5 612.04,931.82 612.91,933.06 613.77,934.23 614.64,935.34 615.5,936.38 616.36,937.37 617.23,938.29 618.09,939.16 618.96,939.98 619.82,940.74 620.68,941.46 621.55,942.13 622.41,942.75 623.28,943.34 624.14,943.88 625,944.39 625.87,944.86 626.73,945.3 627.6,945.7 628.46,946.08 629.32,946.43 630.19,946.75 631.05,947.05 631.92,947.32 632.78,947.58 633.64,947.81 634.51,948.03 635.37,948.22 636.24,948.41 637.1,948.57 637.96,948.72 638.83,948.86 639.69,948.99 640.56,949.11 641.42,949.21 642.28,949.31 643.15,949.4 644.01,949.48 644.88,949.55 645.74,949.62 646.6,949.68 647.47,949.73 648.33,949.78 649.2,949.82 650.06,949.86 650.92,949.9 651.79,949.93 652.65,949.96 653.52,949.99 654.38,950.01 655.24,950.03 656.11,950.05 656.97,950.07 657.84,950.08 658.7,950.1 659.56,950.11 660.43,950.12 661.29,950.13 662.16,950.14 663.02,950.14 663.88,950.15 664.75,950.16 665.61,950.16 666.48,950.17 667.34,950.17 668.2,950.17 669.07,950.18 669.93,950.18 670.8,950.18 671.66,950.19 672.52,950.19 673.39,950.19 674.25,950.19 675.12,950.19 675.98,950.19 676.84,950.19 677.71,950.19 678.57,950.2 679.44,950.2 680.3,950.2" class="nrm"/>
<polyline points="421.1,950.18 421.96,950.18 422.83,950.17 423.69,950.17 424.56,950.17 425.42,950.16 426.28,950.15 427.15,950.15 428.01,950.14 428.88,950.13 429.74,950.12 430.6,950.11 431.47,950.1 432.33,950.08 433.2,950.07 434.06,950.05 434.92,950.03 435.79,950.01 436.65,949.98 437.52,949.95 438.38,949.92 439.24,949.89 440.11,949.85 440.97,949.81 441.84,949.76 442.7,949.71 443.56,949.66 444.43,949.59 445.29,949.53 446.16,949.45 447.02,949.37 447.88,949.29 448.75,949.19 449.61,949.09 450.48,948.98 451.34,948.85 452.2,948.72 453.07,948.58 453.93,948.43 454.8,948.26 455.66,948.08 456.52,947.89 457.39,947.68 458.25,947.46 459.12,947.22 459.98,946.96 460.84,946.69 461.71,946.39 462.57,946.08 463.44,945.74 464.3,945.39 465.16,945.01 466.03,944.61 466.89,944.18 467.76,943.72 468.62,943.24 469.48,942.73 470.35,942.19 471.21,941.62 472.08,941.01 472.94,940.37 473.8,939.7 474.67,938.99 475.53,938.25 476.4,937.46 477.26,936.64 478.12,935.77 478.99,934.87 479.85,933.92 480.72,932.92 481.58,931.88 482.44,930.79 483.31,929.65 484.17,928.46 485.04,927.23 485.9,925.93 486.76,924.59 487.63,923.19 488.49,921.74 489.36,920.22 490.22,918.66 491.08,917.03 491.95,915.34 492.81,913.59 493.68,911.78 494.54,909.91 495.4,907.98 496.27,905.99 497.13,903.93 498,901.8 498.86,899.62 499.72,897.36 500.59,895.05 501.45,892.67 502.32,890.22 503.18,887.71 504.04,885.14 504.91,882.51 505.77,879.81 506.64,877.05 507.5,874.23 508.36,871.35 509.23,868.42 510.09,865.43 510.96,862.38 511.82,859.28 512.68,856.13 513.55,852.93 514.41,849.69 515.28,846.4 516.14,843.07 517,839.71 517.87,836.31 518.73,832.88 519.6,829.43 520.46,825.95 521.32,822.46 522.19,818.95 523.05,815.43 523.92,811.91 524.78,808.39 525.64,804.87 526.51,801.37 527.37,797.88 528.24,794.42 529.1,790.99 529.96,787.59 530.83,784.23 531.69,780.93 532.56,777.68 533.42,774.49 534.28,771.37 535.15,768.32 536.01,765.36 536.88,762.49 537.74,759.72 538.6,757.05 539.47,754.5 540.33,752.06 541.2,749.75 542.06,747.57 542.92,745.53 543.79,743.64 544.65,741.91 545.52,740.33 546.38,738.92 547.24,737.68 548.11,736.61 548.97,735.73 549.84,735.04 550.7,734.53 551.56,734.22 552.43,734.11 553.29,734.2 554.16,734.5 555.02,735 555.88,735.71 556.75,736.63 557.61,737.75 558.48,739.09 559.34,740.63 560.2,742.38 561.07,744.33 561.93,746.48 562.8,748.82 563.66,751.36 564.52,754.09 565.39,757 566.25,760.08 567.12,763.34 567.98,766.75 568.84,770.32 569.71,774.04 570.57,777.89 571.44,781.87 572.3,785.96 573.16,790.17 574.03,794.46 574.89,798.85 575.76,803.31 576.62,807.83 577.48,812.4 578.35,817.02 579.21,821.66 580.08,826.32 580.94,830.98 581.8,835.64 582.67,840.28 583.53,844.9 584.4,849.48 585.26,854.01 586.12,858.48 586.99,862.88 587.85,867.21 588.72,871.46 589.58,875.61 590.44,879.66 591.31,883.61 592.17,887.45 593.04,891.17 593.9,894.77 594.76,898.25 595.63,901.59 596.49,904.81 597.36,907.89 598.22,910.84 599.08,913.66 599.95,916.34 600.81,918.88 601.68,921.3 602.54,923.58 603.4,925.73 604.27,927.75 605.13,929.66 606,931.44 606.86,933.1 607.72,934.65 608.59,936.09 609.45,937.43 610.32,938.66 611.18,939.8 612.04,940.85 612.91,941.82 613.77,942.7 614.64,943.51 615.5,944.24 616.36,944.91 617.23,945.51 618.09,946.06 618.96,946.55 619.82,946.99 620.68,947.38 621.55,947.74 622.41,948.05 623.28,948.33 624.14,948.58 625,948.8 625.87,948.99 626.73,949.16 627.6,949.31 628.46,949.44 629.32,949.55 630.19,949.65 631.05,949.73 631.92,949.8 632.78,949.87 633.64,949.92 634.51,949.97 635.37,950 636.24,950.04 637.1,950.07 637.96,950.09 638.83,950.11 639.69,950.12 640.56,950.14 641.42,950.15 642.28,950.16 643.15,950.17 644.01,950.17 644.88,950.18 645.74,950.18 646.6,950.19 647.47,950.19 648.33,950.19 649.2,950.19 650.06,950.19 650.92,950.2 651.79,950.2 652.65,950.2 653.52,950.2 654.38,950.2 655.24,950.2 656.11,950.2 656.97,950.2 657.84,950.2 658.7,950.2 659.56,950.2 660.43,950.2 661.29,950.2 662.16,950.2 663.02,950.2 663.88,950.2 664.75,950.2 665.61,950.2 666.48,950.2 667.34,950.2 668.2,950.2 669.07,950.2 669.93,950.2 670.8,950.2 671.66,950.2 672.52,950.2 673.39,950.2 674.25,950.2 675.12,950.2 675.98,950.2 676.84,950.2 677.71,950.2 678.57,950.2 679.44,950.2 680.3,950.2" class="sol"/>
<path d="M435.5 958.8H665.9" class="ax"/>
<path d="M435.5 958.8V966M493.1 958.8V966M550.7 958.8V966M608.3 958.8V966" class="axt"/>
<path d="M665.9 958.8V966" class="axt" style="stroke:#ececec"/>
<path d="M410.73 950.2V742.28M410.73 950.2H403.33M410.73 898.22H403.33M410.73 846.24H403.33M410.73 794.26H403.33M410.73 742.28H403.33" class="ax"/>
<text x="434.9" y="985.4" class="tl">-4</text>
<text x="492.5" y="985.4" class="tl">-2</text>
<text x="550.7" y="985.4" class="tl">0</text>
<text x="608.3" y="985.4" class="tl">2</text>
<text x="665.9" y="985.4" class="tl">4</text>
<text x="393.33" y="950.2" class="tl" transform="rotate(-90 393.33 950.2)">0.0</text>
<text x="393.33" y="898.22" class="tl" transform="rotate(-90 393.33 898.22)">0.1</text>
<text x="393.33" y="846.24" class="tl" transform="rotate(-90 393.33 846.24)">0.2</text>
<text x="393.33" y="794.26" class="tl" transform="rotate(-90 393.33 794.26)">0.3</text>
<text x="393.33" y="742.28" class="tl" transform="rotate(-90 393.33 742.28)">0.4</text>
<rect x="605.9" y="742.28" width="74.4" height="41.6" class="lg"/>
<line x1="617" y1="756.18" x2="628.6" y2="756.18" class="nrm"/>
<line x1="617" y1="769.28" x2="628.6" y2="769.28" class="sol" style="stroke:#444"/>
<text x="633.8" y="760.48" class="lt">normal</text>
<text x="633.8" y="773.88" class="lt">p_n</text>
<text transform="translate(73.31 358.80) scale(1.039 1)" style="font-family:'Liberation Serif',serif;font-style:italic;font-size:20.61px" fill="#000">H</text>
<text transform="translate(96.14 361.27) scale(1.283 1)" style="font-family:'Liberation Serif',serif;font-style:normal;font-size:22.80px" fill="#000">=</text>
<text transform="translate(118.06 358.84) scale(1.034 1)" style="font-family:'Liberation Serif',serif;font-style:normal;font-size:20.37px" fill="#000">0.05,</text>
<text transform="translate(168.56 358.80) scale(1.154 1)" style="font-family:'Liberation Serif',serif;font-style:italic;font-size:19.57px" fill="#000">n</text>
<text transform="translate(185.71 361.09) scale(1.334 1)" style="font-family:'Liberation Serif',serif;font-style:normal;font-size:22.40px" fill="#000">=</text>
<text transform="translate(208.25 358.60) scale(1.042 1)" style="font-family:'Liberation Serif',serif;font-style:normal;font-size:20.15px" fill="#000">32</text>
<text transform="translate(457.11 358.80) scale(1.039 1)" style="font-family:'Liberation Serif',serif;font-style:italic;font-size:20.61px" fill="#000">H</text>
<text transform="translate(479.94 361.27) scale(1.283 1)" style="font-family:'Liberation Serif',serif;font-style:normal;font-size:22.80px" fill="#000">=</text>
<text transform="translate(501.86 358.84) scale(1.034 1)" style="font-family:'Liberation Serif',serif;font-style:normal;font-size:20.37px" fill="#000">0.20,</text>
<text transform="translate(552.36 358.80) scale(1.154 1)" style="font-family:'Liberation Serif',serif;font-style:italic;font-size:19.57px" fill="#000">n</text>
<text transform="translate(569.51 361.09) scale(1.334 1)" style="font-family:'Liberation Serif',serif;font-style:normal;font-size:22.40px" fill="#000">=</text>
<text transform="translate(592.05 358.60) scale(1.042 1)" style="font-family:'Liberation Serif',serif;font-style:normal;font-size:20.15px" fill="#000">32</text>
<text transform="translate(73.31 693.20) scale(1.039 1)" style="font-family:'Liberation Serif',serif;font-style:italic;font-size:20.61px" fill="#000">H</text>
<text transform="translate(96.14 695.67) scale(1.283 1)" style="font-family:'Liberation Serif',serif;font-style:normal;font-size:22.80px" fill="#000">=</text>
<text transform="translate(118.06 693.24) scale(1.034 1)" style="font-family:'Liberation Serif',serif;font-style:normal;font-size:20.37px" fill="#000">0.35,</text>
<text transform="translate(168.56 693.20) scale(1.154 1)" style="font-family:'Liberation Serif',serif;font-style:italic;font-size:19.57px" fill="#000">n</text>
<text transform="translate(185.71 695.49) scale(1.334 1)" style="font-family:'Liberation Serif',serif;font-style:normal;font-size:22.40px" fill="#000">=</text>
<text transform="translate(208.25 693.00) scale(1.042 1)" style="font-family:'Liberation Serif',serif;font-style:normal;font-size:20.15px" fill="#000">32</text>
<text transform="translate(457.11 693.20) scale(1.039 1)" style="font-family:'Liberation Serif',serif;font-style:italic;font-size:20.61px" fill="#000">H</text>
<text transform="translate(479.94 695.67) scale(1.283 1)" style="font-family:'Liberation Serif',serif;font-style:normal;font-size:22.80px" fill="#000">=</text>
<text transform="translate(501.86 693.24) scale(1.034 1)" style="font-family:'Liberation Serif',serif;font-style:normal;font-size:20.37px" fill="#000">0.65,</text>
<text transform="translate(552.36 693.20) scale(1.154 1)" style="font-family:'Liberation Serif',serif;font-style:italic;font-size:19.57px" fill="#000">n</text>
<text transform="translate(569.51 695.49) scale(1.334 1)" style="font-family:'Liberation Serif',serif;font-style:normal;font-size:22.40px" fill="#000">=</text>
<text transform="translate(592.05 693.00) scale(1.042 1)" style="font-family:'Liberation Serif',serif;font-style:normal;font-size:20.15px" fill="#000">32</text>
<text transform="translate(73.31 1021.70) scale(1.039 1)" style="font-family:'Liberation Serif',serif;font-style:italic;font-size:20.61px" fill="#000">H</text>
<text transform="translate(96.14 1024.17) scale(1.283 1)" style="font-family:'Liberation Serif',serif;font-style:normal;font-size:22.80px" fill="#000">=</text>
<text transform="translate(118.06 1021.74) scale(1.034 1)" style="font-family:'Liberation Serif',serif;font-style:normal;font-size:20.37px" fill="#000">0.80,</text>
<text transform="translate(168.56 1021.70) scale(1.154 1)" style="font-family:'Liberation Serif',serif;font-style:italic;font-size:19.57px" fill="#000">n</text>
<text transform="translate(185.71 1023.99) scale(1.334 1)" style="font-family:'Liberation Serif',serif;font-style:normal;font-size:22.40px" fill="#000">=</text>
<text transform="translate(208.25 1021.50) scale(1.042 1)" style="font-family:'Liberation Serif',serif;font-style:normal;font-size:20.15px" fill="#000">32</text>
<text transform="translate(457.11 1021.70) scale(1.039 1)" style="font-family:'Liberation Serif',serif;font-style:italic;font-size:20.61px" fill="#000">H</text>
<text transform="translate(479.94 1024.17) scale(1.283 1)" style="font-family:'Liberation Serif',serif;font-style:normal;font-size:22.80px" fill="#000">=</text>
<text transform="translate(501.86 1021.74) scale(1.034 1)" style="font-family:'Liberation Serif',serif;font-style:normal;font-size:20.37px" fill="#000">0.95,</text>
<text transform="translate(552.36 1021.70) scale(1.154 1)" style="font-family:'Liberation Serif',serif;font-style:italic;font-size:19.57px" fill="#000">n</text>
<text transform="translate(569.51 1023.99) scale(1.334 1)" style="font-family:'Liberation Serif',serif;font-style:normal;font-size:22.40px" fill="#000">=</text>
<text transform="translate(592.05 1021.50) scale(1.042 1)" style="font-family:'Liberation Serif',serif;font-style:normal;font-size:20.15px" fill="#000">32</text>
</svg>
</body></html>
